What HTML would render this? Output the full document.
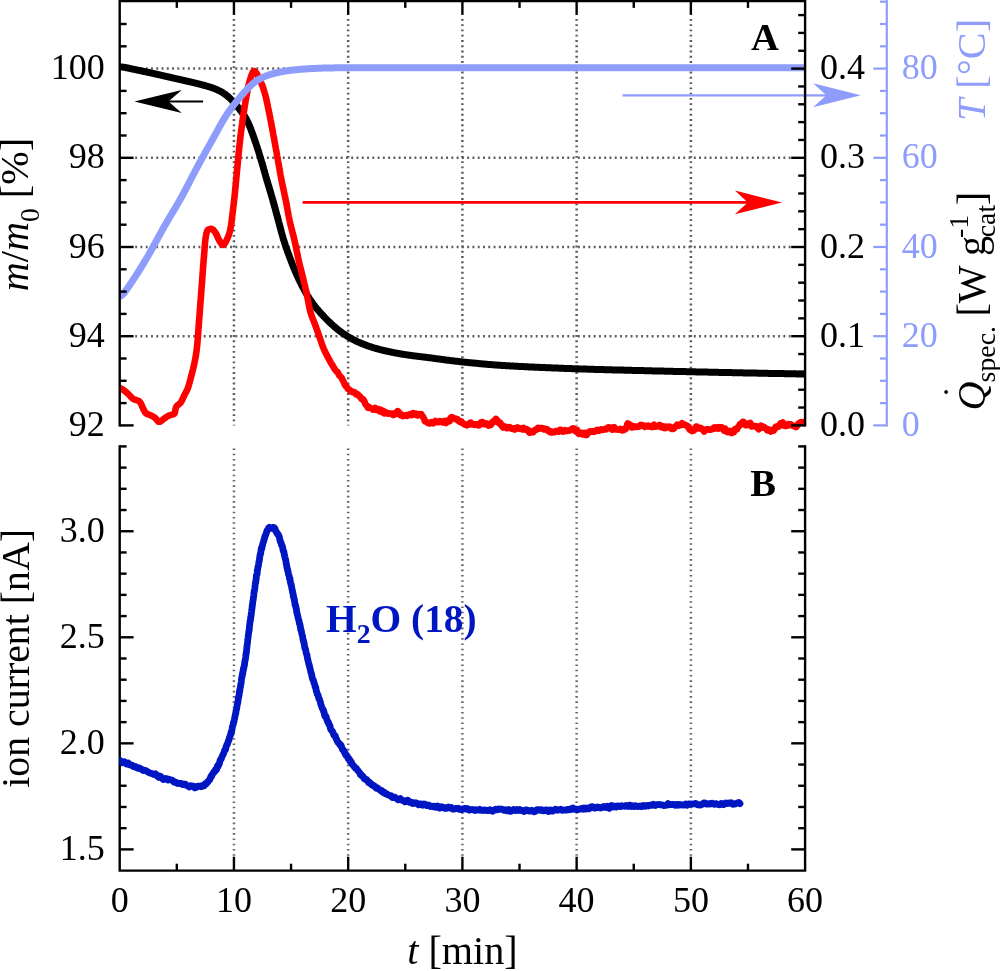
<!DOCTYPE html>
<html lang="en"><head><meta charset="utf-8"><title>TG / DSC / MS chart</title>
<style>html,body{margin:0;padding:0;background:#fff}svg{display:block}</style></head>
<body>
<svg width="1000" height="971" viewBox="0 0 1000 971" font-family="'Liberation Serif', 'Times New Roman', serif">
<rect width="1000" height="971" fill="#fff"/>
<g stroke="#5c5c5c" stroke-width="2.5" fill="none" stroke-dasharray="1.9 3.37">
<line x1="233.93" y1="18.9" x2="233.93" y2="425.4"/>
<line x1="233.93" y1="448.4" x2="233.93" y2="856.6" stroke="#666" stroke-width="2.5" stroke-dasharray="1.6 3.67"/>
<line x1="348.17" y1="18.9" x2="348.17" y2="425.4"/>
<line x1="348.17" y1="448.4" x2="348.17" y2="856.6" stroke="#666" stroke-width="2.5" stroke-dasharray="1.6 3.67"/>
<line x1="462.40" y1="18.9" x2="462.40" y2="425.4"/>
<line x1="462.40" y1="448.4" x2="462.40" y2="856.6" stroke="#666" stroke-width="2.5" stroke-dasharray="1.6 3.67"/>
<line x1="576.63" y1="18.9" x2="576.63" y2="425.4"/>
<line x1="576.63" y1="448.4" x2="576.63" y2="856.6" stroke="#666" stroke-width="2.5" stroke-dasharray="1.6 3.67"/>
<line x1="690.87" y1="18.9" x2="690.87" y2="425.4"/>
<line x1="690.87" y1="448.4" x2="690.87" y2="856.6" stroke="#666" stroke-width="2.5" stroke-dasharray="1.6 3.67"/>
<line x1="135.2" y1="336.20" x2="790.6" y2="336.20"/>
<line x1="135.2" y1="247.00" x2="790.6" y2="247.00"/>
<line x1="135.2" y1="157.80" x2="790.6" y2="157.80"/>
<line x1="135.2" y1="68.60" x2="790.6" y2="68.60"/>
</g>
<clipPath id="ca"><rect x="119.7" y="0" width="685.4" height="440"/></clipPath>
<g clip-path="url(#ca)">
<path d="M119.7,66.9 L120.5,66.9 L121.2,67.0 L121.9,67.0 L122.6,67.1 L123.3,67.2 L124.0,67.3 L124.7,67.4 L125.4,67.5 L126.0,67.7 L126.7,67.8 L127.4,67.9 L128.0,68.1 L128.7,68.2 L129.4,68.4 L130.1,68.5 L130.8,68.7 L131.4,68.8 L132.1,69.0 L132.8,69.1 L133.5,69.3 L134.2,69.4 L134.9,69.5 L135.5,69.7 L136.2,69.8 L136.9,70.0 L137.6,70.1 L138.3,70.3 L139.0,70.4 L139.7,70.5 L140.3,70.7 L141.0,70.8 L141.7,71.0 L142.4,71.1 L143.1,71.3 L143.8,71.4 L144.4,71.6 L145.1,71.7 L145.8,71.8 L146.5,72.0 L147.2,72.1 L147.9,72.3 L148.6,72.4 L149.2,72.6 L149.9,72.7 L150.6,72.9 L151.3,73.0 L152.0,73.2 L152.7,73.3 L153.3,73.5 L154.0,73.6 L154.7,73.8 L155.4,73.9 L156.1,74.1 L156.8,74.3 L157.4,74.4 L158.1,74.6 L158.8,74.7 L159.5,74.9 L160.2,75.0 L160.9,75.2 L161.5,75.3 L162.2,75.5 L162.9,75.6 L163.6,75.8 L164.3,76.0 L164.9,76.1 L165.6,76.3 L166.3,76.4 L167.0,76.6 L167.7,76.7 L168.4,76.9 L169.0,77.1 L169.7,77.2 L170.4,77.4 L171.1,77.5 L171.8,77.7 L172.5,77.8 L173.1,78.0 L173.8,78.1 L174.5,78.3 L175.2,78.5 L175.9,78.6 L176.5,78.8 L177.2,78.9 L177.9,79.1 L178.6,79.2 L179.3,79.4 L180.0,79.5 L180.6,79.7 L181.3,79.8 L182.0,80.0 L182.7,80.2 L183.4,80.3 L184.1,80.5 L184.7,80.6 L185.4,80.8 L186.1,80.9 L186.8,81.1 L187.5,81.3 L188.2,81.4 L188.8,81.6 L189.5,81.7 L190.2,81.9 L190.9,82.0 L191.6,82.2 L192.2,82.4 L192.9,82.5 L193.6,82.7 L194.3,82.9 L195.0,83.0 L195.6,83.2 L196.3,83.4 L197.0,83.5 L197.7,83.7 L198.4,83.9 L199.0,84.0 L199.7,84.2 L200.4,84.4 L201.1,84.5 L201.8,84.7 L202.4,84.9 L203.1,85.1 L203.8,85.3 L204.5,85.4 L205.1,85.6 L205.8,85.8 L206.5,86.0 L207.2,86.2 L207.8,86.4 L208.5,86.6 L209.2,86.8 L209.8,87.0 L210.5,87.2 L211.2,87.5 L211.8,87.7 L212.5,87.9 L213.1,88.1 L213.8,88.4 L214.5,88.6 L215.1,88.9 L215.8,89.2 L216.4,89.4 L217.0,89.7 L217.7,90.0 L218.3,90.3 L218.9,90.6 L219.6,90.9 L220.2,91.2 L220.8,91.6 L221.4,91.9 L222.0,92.2 L222.6,92.6 L223.2,93.0 L223.8,93.4 L224.3,93.7 L224.9,94.1 L225.5,94.5 L226.0,95.0 L226.6,95.4 L227.1,95.8 L227.7,96.3 L228.2,96.7 L228.7,97.2 L229.2,97.6 L229.7,98.1 L230.2,98.6 L230.7,99.1 L231.2,99.6 L231.7,100.1 L232.2,100.6 L232.7,101.1 L233.2,101.6 L233.6,102.1 L234.1,102.7 L234.6,103.2 L235.0,103.7 L235.5,104.2 L235.9,104.8 L236.4,105.3 L236.8,105.9 L237.3,106.4 L237.7,106.9 L238.2,107.5 L238.6,108.0 L239.0,108.6 L239.5,109.1 L239.9,109.7 L240.3,110.3 L240.8,110.8 L241.2,111.4 L241.6,111.9 L242.0,112.5 L242.4,113.1 L242.8,113.6 L243.2,114.2 L243.6,114.8 L244.0,115.4 L244.4,116.0 L244.8,116.5 L245.1,117.1 L245.5,117.7 L245.8,118.3 L246.2,118.9 L246.5,119.5 L246.8,120.2 L247.1,120.8 L247.5,121.4 L247.8,122.0 L248.1,122.6 L248.3,123.3 L248.6,123.9 L248.9,124.5 L249.2,125.2 L249.5,125.8 L249.7,126.5 L250.0,127.1 L250.2,127.8 L250.5,128.4 L250.8,129.1 L251.0,129.7 L251.3,130.4 L251.5,131.1 L251.7,131.7 L252.0,132.4 L252.2,133.0 L252.5,133.7 L252.7,134.4 L252.9,135.0 L253.2,135.7 L253.4,136.3 L253.7,137.0 L253.9,137.7 L254.1,138.3 L254.4,139.0 L254.6,139.6 L254.8,140.3 L255.0,141.0 L255.3,141.6 L255.5,142.3 L255.7,143.0 L256.0,143.6 L256.2,144.3 L256.4,144.9 L256.6,145.6 L256.8,146.3 L257.1,146.9 L257.3,147.6 L257.5,148.3 L257.7,148.9 L257.9,149.6 L258.2,150.3 L258.4,150.9 L258.6,151.6 L258.8,152.3 L259.0,152.9 L259.2,153.6 L259.4,154.3 L259.6,154.9 L259.8,155.6 L260.0,156.3 L260.2,156.9 L260.4,157.6 L260.6,158.3 L260.8,159.0 L261.0,159.6 L261.2,160.3 L261.4,161.0 L261.6,161.6 L261.8,162.3 L262.0,163.0 L262.2,163.7 L262.4,164.3 L262.6,165.0 L262.8,165.7 L263.0,166.4 L263.2,167.0 L263.4,167.7 L263.5,168.4 L263.7,169.1 L263.9,169.7 L264.1,170.4 L264.3,171.1 L264.5,171.7 L264.7,172.4 L264.9,173.1 L265.1,173.8 L265.3,174.4 L265.4,175.1 L265.6,175.8 L265.8,176.5 L266.0,177.1 L266.2,177.8 L266.4,178.5 L266.6,179.2 L266.8,179.8 L267.0,180.5 L267.2,181.2 L267.4,181.8 L267.6,182.5 L267.8,183.2 L268.0,183.9 L268.2,184.5 L268.4,185.2 L268.6,185.9 L268.8,186.5 L269.0,187.2 L269.2,187.9 L269.4,188.5 L269.6,189.2 L269.8,189.9 L270.0,190.6 L270.2,191.2 L270.4,191.9 L270.6,192.6 L270.8,193.2 L271.0,193.9 L271.2,194.6 L271.4,195.3 L271.6,195.9 L271.8,196.6 L272.0,197.3 L272.2,197.9 L272.4,198.6 L272.6,199.3 L272.8,200.0 L273.0,200.6 L273.1,201.3 L273.3,202.0 L273.5,202.7 L273.7,203.3 L273.9,204.0 L274.1,204.7 L274.3,205.4 L274.5,206.0 L274.6,206.7 L274.8,207.4 L275.0,208.1 L275.2,208.7 L275.4,209.4 L275.6,210.1 L275.7,210.8 L275.9,211.4 L276.1,212.1 L276.3,212.8 L276.5,213.5 L276.6,214.1 L276.8,214.8 L277.0,215.5 L277.2,216.2 L277.4,216.8 L277.6,217.5 L277.7,218.2 L277.9,218.9 L278.1,219.5 L278.3,220.2 L278.5,220.9 L278.6,221.6 L278.8,222.3 L279.0,222.9 L279.2,223.6 L279.4,224.3 L279.5,225.0 L279.7,225.6 L279.9,226.3 L280.1,227.0 L280.3,227.7 L280.4,228.3 L280.6,229.0 L280.8,229.7 L281.0,230.4 L281.2,231.1 L281.3,231.7 L281.5,232.4 L281.7,233.1 L281.9,233.8 L282.1,234.4 L282.3,235.1 L282.5,235.8 L282.7,236.4 L282.9,237.1 L283.0,237.8 L283.2,238.5 L283.4,239.1 L283.6,239.8 L283.8,240.5 L284.1,241.1 L284.3,241.8 L284.5,242.5 L284.7,243.1 L284.9,243.8 L285.1,244.5 L285.3,245.1 L285.6,245.8 L285.8,246.5 L286.0,247.1 L286.2,247.8 L286.5,248.5 L286.7,249.1 L286.9,249.8 L287.2,250.4 L287.4,251.1 L287.6,251.8 L287.9,252.4 L288.1,253.1 L288.3,253.7 L288.6,254.4 L288.8,255.0 L289.1,255.7 L289.3,256.4 L289.6,257.0 L289.8,257.7 L290.1,258.3 L290.3,259.0 L290.6,259.6 L290.8,260.3 L291.1,260.9 L291.3,261.6 L291.6,262.2 L291.8,262.9 L292.1,263.5 L292.3,264.2 L292.6,264.8 L292.8,265.5 L293.1,266.1 L293.4,266.8 L293.6,267.4 L293.9,268.1 L294.2,268.7 L294.4,269.4 L294.7,270.0 L295.0,270.7 L295.3,271.3 L295.5,272.0 L295.8,272.6 L296.1,273.2 L296.4,273.9 L296.7,274.5 L296.9,275.2 L297.2,275.8 L297.5,276.4 L297.8,277.1 L298.1,277.7 L298.4,278.3 L298.7,279.0 L299.0,279.6 L299.3,280.2 L299.6,280.9 L299.9,281.5 L300.2,282.1 L300.5,282.8 L300.9,283.4 L301.2,284.0 L301.5,284.6 L301.8,285.3 L302.1,285.9 L302.5,286.5 L302.8,287.1 L303.1,287.7 L303.4,288.3 L303.8,289.0 L304.1,289.6 L304.4,290.2 L304.8,290.8 L305.1,291.4 L305.5,292.0 L305.8,292.6 L306.2,293.2 L306.5,293.8 L306.9,294.5 L307.2,295.1 L307.6,295.7 L308.0,296.3 L308.3,296.9 L308.7,297.4 L309.1,298.0 L309.4,298.6 L309.8,299.2 L310.2,299.8 L310.6,300.4 L311.0,301.0 L311.4,301.5 L311.8,302.1 L312.2,302.7 L312.6,303.2 L313.0,303.8 L313.4,304.4 L313.8,304.9 L314.3,305.5 L314.7,306.0 L315.1,306.6 L315.6,307.1 L316.0,307.7 L316.4,308.2 L316.9,308.7 L317.3,309.3 L317.8,309.8 L318.3,310.3 L318.7,310.9 L319.2,311.4 L319.7,311.9 L320.1,312.4 L320.6,313.0 L321.1,313.5 L321.5,314.0 L322.0,314.5 L322.5,315.0 L323.0,315.5 L323.4,316.0 L323.9,316.5 L324.4,317.1 L324.9,317.6 L325.4,318.1 L325.9,318.6 L326.4,319.1 L326.9,319.6 L327.3,320.1 L327.8,320.6 L328.3,321.1 L328.8,321.5 L329.3,322.0 L329.8,322.5 L330.4,323.0 L330.9,323.5 L331.4,324.0 L331.9,324.4 L332.4,324.9 L332.9,325.4 L333.5,325.8 L334.0,326.3 L334.5,326.7 L335.0,327.2 L335.6,327.7 L336.1,328.1 L336.6,328.6 L337.2,329.0 L337.7,329.4 L338.3,329.9 L338.8,330.3 L339.4,330.7 L339.9,331.2 L340.5,331.6 L341.1,332.0 L341.6,332.4 L342.2,332.8 L342.8,333.2 L343.3,333.6 L343.9,334.0 L344.5,334.4 L345.1,334.8 L345.7,335.2 L346.3,335.5 L346.9,335.9 L347.4,336.3 L348.0,336.6 L348.6,337.0 L349.2,337.4 L349.9,337.7 L350.5,338.1 L351.1,338.4 L351.7,338.7 L352.3,339.1 L352.9,339.4 L353.5,339.7 L354.2,340.0 L354.8,340.4 L355.4,340.7 L356.0,341.0 L356.7,341.3 L357.3,341.6 L357.9,341.9 L358.6,342.2 L359.2,342.4 L359.9,342.7 L360.5,343.0 L361.1,343.3 L361.8,343.6 L362.4,343.8 L363.1,344.1 L363.7,344.3 L364.4,344.6 L365.0,344.8 L365.7,345.1 L366.3,345.3 L367.0,345.6 L367.7,345.8 L368.3,346.0 L369.0,346.3 L369.6,346.5 L370.3,346.7 L371.0,346.9 L371.6,347.2 L372.3,347.4 L373.0,347.6 L373.6,347.8 L374.3,348.0 L375.0,348.2 L375.7,348.4 L376.3,348.6 L377.0,348.7 L377.7,348.9 L378.4,349.1 L379.0,349.3 L379.7,349.5 L380.4,349.6 L381.1,349.8 L381.8,350.0 L382.4,350.1 L383.1,350.3 L383.8,350.5 L384.5,350.6 L385.2,350.8 L385.8,350.9 L386.5,351.1 L387.2,351.3 L387.9,351.4 L388.6,351.5 L389.3,351.7 L389.9,351.8 L390.6,352.0 L391.3,352.1 L392.0,352.3 L392.7,352.4 L393.4,352.5 L394.1,352.7 L394.7,352.8 L395.4,352.9 L396.1,353.1 L396.8,353.2 L397.5,353.3 L398.2,353.4 L398.9,353.6 L399.6,353.7 L400.3,353.8 L400.9,353.9 L401.6,354.1 L402.3,354.2 L403.0,354.3 L403.7,354.4 L404.4,354.5 L405.1,354.6 L405.8,354.7 L406.5,354.8 L407.2,354.9 L407.9,355.0 L408.6,355.1 L409.2,355.2 L409.9,355.3 L410.6,355.4 L411.3,355.5 L412.0,355.6 L412.7,355.7 L413.4,355.8 L414.1,355.9 L414.8,356.0 L415.5,356.0 L416.2,356.1 L416.9,356.2 L417.6,356.3 L418.3,356.4 L419.0,356.5 L419.7,356.6 L420.4,356.6 L421.1,356.7 L421.7,356.8 L422.4,356.9 L423.1,357.0 L423.8,357.1 L424.5,357.1 L425.2,357.2 L425.9,357.3 L426.6,357.4 L427.3,357.5 L428.0,357.6 L428.7,357.7 L429.4,357.7 L430.1,357.8 L430.8,357.9 L431.5,358.0 L432.2,358.1 L432.9,358.2 L433.6,358.3 L434.2,358.4 L434.9,358.5 L435.6,358.6 L436.3,358.7 L437.0,358.8 L437.7,358.9 L438.4,359.0 L439.1,359.0 L439.8,359.1 L440.5,359.2 L441.2,359.3 L441.9,359.4 L442.6,359.5 L443.3,359.6 L444.0,359.7 L444.7,359.8 L445.3,359.9 L446.0,360.0 L446.7,360.1 L447.4,360.2 L448.1,360.2 L448.8,360.3 L449.5,360.4 L450.2,360.5 L450.9,360.6 L451.6,360.7 L452.3,360.8 L453.0,360.8 L453.7,360.9 L454.4,361.0 L455.1,361.1 L455.8,361.2 L456.5,361.2 L457.2,361.3 L457.9,361.4 L458.6,361.5 L459.2,361.6 L459.9,361.6 L460.6,361.7 L461.3,361.8 L462.0,361.9 L462.7,361.9 L463.4,362.0 L464.1,362.1 L464.8,362.2 L465.5,362.2 L466.2,362.3 L466.9,362.4 L467.6,362.5 L468.3,362.5 L469.0,362.6 L469.7,362.7 L470.4,362.7 L471.1,362.8 L471.8,362.9 L472.5,362.9 L473.2,363.0 L473.9,363.1 L474.6,363.1 L475.3,363.2 L476.0,363.3 L476.7,363.3 L477.4,363.4 L478.0,363.5 L478.7,363.5 L479.4,363.6 L480.1,363.7 L480.8,363.7 L481.5,363.8 L482.2,363.9 L482.9,363.9 L483.6,364.0 L484.3,364.1 L485.0,364.1 L485.7,364.2 L486.4,364.2 L487.1,364.3 L487.8,364.4 L488.5,364.4 L489.2,364.5 L489.9,364.5 L490.6,364.6 L491.3,364.6 L492.0,364.7 L492.7,364.8 L493.4,364.8 L494.1,364.9 L494.8,364.9 L495.5,365.0 L496.2,365.0 L496.9,365.1 L497.6,365.1 L498.3,365.2 L499.0,365.2 L499.7,365.3 L500.4,365.3 L501.1,365.4 L501.8,365.4 L502.5,365.4 L503.2,365.5 L503.9,365.5 L504.6,365.6 L505.3,365.6 L506.0,365.7 L506.7,365.7 L507.4,365.7 L508.1,365.8 L508.8,365.8 L509.5,365.9 L510.2,365.9 L510.9,365.9 L511.5,366.0 L512.2,366.0 L512.9,366.1 L513.6,366.1 L514.3,366.1 L515.0,366.2 L515.7,366.2 L516.4,366.2 L517.1,366.3 L517.8,366.3 L518.5,366.4 L519.2,366.4 L519.9,366.4 L520.6,366.5 L521.3,366.5 L522.0,366.5 L522.7,366.6 L523.4,366.6 L524.1,366.6 L524.8,366.7 L525.5,366.7 L526.2,366.8 L526.9,366.8 L527.6,366.8 L528.3,366.9 L529.0,366.9 L529.7,366.9 L530.4,367.0 L531.1,367.0 L531.8,367.0 L532.5,367.1 L533.2,367.1 L533.9,367.1 L534.6,367.2 L535.3,367.2 L536.0,367.2 L536.7,367.2 L537.4,367.3 L538.1,367.3 L538.8,367.3 L539.5,367.4 L540.2,367.4 L540.9,367.4 L541.6,367.5 L542.3,367.5 L543.0,367.5 L543.7,367.6 L544.4,367.6 L545.1,367.6 L545.8,367.6 L546.5,367.7 L547.2,367.7 L547.9,367.7 L548.6,367.8 L549.3,367.8 L550.0,367.8 L550.7,367.8 L551.4,367.9 L552.1,367.9 L552.8,367.9 L553.5,368.0 L554.2,368.0 L554.9,368.0 L555.6,368.0 L556.3,368.1 L557.0,368.1 L557.7,368.1 L558.4,368.1 L559.1,368.2 L559.8,368.2 L560.5,368.2 L561.2,368.3 L561.9,368.3 L562.6,368.3 L563.3,368.3 L564.0,368.4 L564.7,368.4 L565.4,368.4 L566.1,368.4 L566.8,368.5 L567.5,368.5 L568.2,368.5 L568.9,368.5 L569.6,368.6 L570.3,368.6 L571.0,368.6 L571.7,368.6 L572.4,368.7 L573.1,368.7 L573.8,368.7 L574.5,368.7 L575.2,368.8 L575.9,368.8 L576.6,368.8 L577.3,368.8 L578.0,368.8 L578.7,368.9 L579.4,368.9 L580.1,368.9 L580.8,368.9 L581.5,369.0 L582.2,369.0 L582.9,369.0 L583.6,369.0 L584.3,369.1 L585.0,369.1 L585.7,369.1 L586.4,369.1 L587.1,369.1 L587.8,369.2 L588.5,369.2 L589.2,369.2 L589.9,369.2 L590.6,369.2 L591.3,369.3 L592.0,369.3 L592.7,369.3 L593.4,369.3 L594.1,369.4 L594.8,369.4 L595.5,369.4 L596.2,369.4 L596.9,369.4 L597.6,369.5 L598.3,369.5 L599.0,369.5 L599.7,369.5 L600.4,369.5 L601.1,369.6 L601.8,369.6 L602.5,369.6 L603.2,369.6 L603.9,369.6 L604.6,369.7 L605.3,369.7 L606.0,369.7 L606.7,369.7 L607.4,369.7 L608.1,369.7 L608.8,369.8 L609.5,369.8 L610.2,369.8 L610.9,369.8 L611.6,369.8 L612.3,369.9 L613.0,369.9 L613.7,369.9 L614.4,369.9 L615.1,369.9 L615.8,370.0 L616.5,370.0 L617.2,370.0 L617.9,370.0 L618.6,370.0 L619.3,370.0 L620.0,370.1 L620.7,370.1 L621.4,370.1 L622.1,370.1 L622.8,370.1 L623.5,370.1 L624.2,370.2 L624.9,370.2 L625.6,370.2 L626.3,370.2 L627.0,370.2 L627.7,370.3 L628.4,370.3 L629.1,370.3 L629.8,370.3 L630.5,370.3 L631.2,370.3 L631.9,370.4 L632.6,370.4 L633.3,370.4 L634.0,370.4 L634.7,370.4 L635.4,370.4 L636.1,370.5 L636.8,370.5 L637.5,370.5 L638.2,370.5 L638.9,370.5 L639.6,370.5 L640.3,370.6 L641.0,370.6 L641.7,370.6 L642.4,370.6 L643.1,370.6 L643.8,370.6 L644.5,370.7 L645.2,370.7 L645.9,370.7 L646.6,370.7 L647.3,370.7 L648.0,370.8 L648.7,370.8 L649.4,370.8 L650.1,370.8 L650.8,370.8 L651.5,370.8 L652.2,370.9 L652.9,370.9 L653.6,370.9 L654.3,370.9 L655.0,370.9 L655.7,370.9 L656.4,371.0 L657.1,371.0 L657.8,371.0 L658.5,371.0 L659.2,371.0 L659.9,371.0 L660.6,371.1 L661.3,371.1 L662.0,371.1 L662.7,371.1 L663.4,371.1 L664.1,371.1 L664.8,371.2 L665.5,371.2 L666.2,371.2 L666.9,371.2 L667.6,371.2 L668.3,371.2 L669.0,371.3 L669.7,371.3 L670.4,371.3 L671.1,371.3 L671.8,371.3 L672.5,371.3 L673.2,371.4 L673.9,371.4 L674.6,371.4 L675.3,371.4 L676.0,371.4 L676.7,371.4 L677.4,371.4 L678.1,371.5 L678.8,371.5 L679.5,371.5 L680.2,371.5 L680.9,371.5 L681.6,371.5 L682.3,371.6 L683.0,371.6 L683.7,371.6 L684.4,371.6 L685.1,371.6 L685.8,371.6 L686.5,371.7 L687.2,371.7 L687.9,371.7 L688.6,371.7 L689.3,371.7 L690.0,371.7 L690.7,371.8 L691.4,371.8 L692.1,371.8 L692.8,371.8 L693.5,371.8 L694.2,371.8 L694.9,371.8 L695.6,371.9 L696.3,371.9 L697.0,371.9 L697.7,371.9 L698.4,371.9 L699.1,371.9 L699.8,372.0 L700.5,372.0 L701.2,372.0 L701.9,372.0 L702.6,372.0 L703.3,372.0 L704.0,372.0 L704.7,372.1 L705.4,372.1 L706.1,372.1 L706.8,372.1 L707.5,372.1 L708.2,372.1 L708.9,372.2 L709.6,372.2 L710.3,372.2 L711.0,372.2 L711.7,372.2 L712.4,372.2 L713.1,372.2 L713.7,372.3 L714.4,372.3 L715.1,372.3 L715.8,372.3 L716.5,372.3 L717.2,372.3 L717.9,372.3 L718.6,372.4 L719.3,372.4 L720.0,372.4 L720.7,372.4 L721.4,372.4 L722.1,372.4 L722.8,372.4 L723.5,372.5 L724.2,372.5 L724.9,372.5 L725.6,372.5 L726.3,372.5 L727.0,372.5 L727.7,372.6 L728.4,372.6 L729.1,372.6 L729.8,372.6 L730.5,372.6 L731.2,372.6 L731.9,372.6 L732.6,372.7 L733.3,372.7 L734.0,372.7 L734.7,372.7 L735.4,372.7 L736.1,372.7 L736.8,372.7 L737.5,372.8 L738.2,372.8 L738.9,372.8 L739.6,372.8 L740.3,372.8 L741.0,372.8 L741.7,372.8 L742.4,372.8 L743.1,372.9 L743.8,372.9 L744.5,372.9 L745.2,372.9 L745.9,372.9 L746.6,372.9 L747.3,372.9 L748.0,373.0 L748.7,373.0 L749.4,373.0 L750.1,373.0 L750.8,373.0 L751.5,373.0 L752.2,373.0 L752.9,373.1 L753.6,373.1 L754.3,373.1 L755.0,373.1 L755.7,373.1 L756.4,373.1 L757.1,373.1 L757.8,373.2 L758.5,373.2 L759.2,373.2 L759.9,373.2 L760.6,373.2 L761.3,373.2 L762.0,373.2 L762.7,373.2 L763.4,373.3 L764.1,373.3 L764.8,373.3 L765.5,373.3 L766.2,373.3 L766.9,373.3 L767.6,373.3 L768.3,373.4 L769.0,373.4 L769.7,373.4 L770.4,373.4 L771.1,373.4 L771.8,373.4 L772.5,373.4 L773.2,373.4 L773.9,373.5 L774.6,373.5 L775.3,373.5 L776.0,373.5 L776.7,373.5 L777.4,373.5 L778.1,373.5 L778.8,373.5 L779.5,373.6 L780.2,373.6 L780.9,373.6 L781.6,373.6 L782.3,373.6 L783.0,373.6 L783.7,373.6 L784.4,373.6 L785.1,373.7 L785.8,373.7 L786.5,373.7 L787.2,373.7 L787.9,373.7 L788.6,373.7 L789.3,373.7 L790.0,373.7 L790.7,373.8 L791.4,373.8 L792.1,373.8 L792.8,373.8 L793.5,373.8 L794.2,373.8 L794.9,373.8 L795.6,373.8 L796.3,373.9 L797.0,373.9 L797.7,373.9 L798.3,373.9 L799.0,373.9 L799.7,373.9 L800.4,373.9 L801.1,373.9 L801.8,373.9 L802.5,374.0 L803.2,374.0 L803.9,374.0 L804.7,374.0 L805.1,374.0" fill="none" stroke="#000" stroke-width="7.0" stroke-linejoin="round" stroke-linecap="butt" />
<path d="M119.7,388.0 L120.4,388.3 L121.0,388.6 L121.6,388.9 L122.2,389.2 L122.8,389.6 L123.4,390.0 L124.0,390.4 L124.5,390.8 L125.1,391.2 L125.6,391.7 L126.1,392.1 L126.7,392.6 L127.2,393.1 L127.7,393.5 L128.2,394.0 L128.8,394.5 L129.3,395.0 L129.7,395.5 L130.2,396.1 L130.7,396.6 L131.2,397.1 L131.7,397.6 L132.2,398.1 L132.7,398.5 L133.2,398.9 L133.8,399.3 L134.5,399.5 L135.2,399.8 L135.9,400.0 L136.6,400.2 L137.2,400.4 L137.9,400.6 L138.5,400.9 L139.0,401.2 L139.5,401.6 L139.9,402.0 L140.3,402.5 L140.6,403.1 L140.9,403.7 L141.3,404.3 L141.6,405.0 L141.9,405.7 L142.2,406.4 L142.5,407.1 L142.8,407.8 L143.1,408.5 L143.4,409.1 L143.7,409.8 L144.1,410.4 L144.4,411.1 L144.7,411.7 L145.1,412.3 L145.5,412.8 L146.0,413.2 L146.5,413.6 L147.0,413.9 L147.7,414.2 L148.3,414.4 L149.0,414.7 L149.7,414.9 L150.4,415.2 L151.0,415.5 L151.7,415.8 L152.3,416.1 L152.9,416.4 L153.5,416.8 L154.1,417.2 L154.7,417.6 L155.2,418.0 L155.8,418.5 L156.2,419.1 L156.7,419.7 L157.2,420.3 L157.6,420.8 L158.0,421.3 L158.5,421.7 L159.0,421.8 L159.5,421.8 L160.1,421.6 L160.6,421.3 L161.2,420.9 L161.8,420.5 L162.4,420.0 L163.0,419.5 L163.6,419.0 L164.2,418.6 L164.8,418.2 L165.4,417.8 L165.9,417.3 L166.5,416.9 L167.1,416.6 L167.7,416.2 L168.3,415.9 L169.0,415.6 L169.6,415.3 L170.3,415.1 L171.1,414.9 L171.8,414.7 L172.5,414.6 L173.2,414.4 L173.7,414.2 L174.1,413.9 L174.5,413.5 L174.7,413.0 L174.9,412.4 L175.1,411.7 L175.2,411.0 L175.3,410.2 L175.5,409.4 L175.6,408.7 L175.8,407.9 L176.1,407.3 L176.4,406.7 L176.7,406.1 L177.2,405.6 L177.7,405.2 L178.3,404.7 L178.8,404.3 L179.4,403.8 L179.9,403.4 L180.4,402.9 L180.8,402.3 L181.2,401.8 L181.5,401.2 L181.9,400.6 L182.2,399.9 L182.5,399.3 L182.8,398.7 L183.1,398.0 L183.4,397.3 L183.7,396.7 L184.0,396.1 L184.3,395.4 L184.6,394.8 L184.9,394.2 L185.2,393.5 L185.6,392.9 L185.9,392.3 L186.2,391.7 L186.6,391.1 L186.9,390.4 L187.2,389.8 L187.4,389.2 L187.7,388.5 L188.0,387.9 L188.2,387.2 L188.4,386.6 L188.6,385.9 L188.8,385.2 L189.0,384.6 L189.2,383.9 L189.4,383.2 L189.6,382.5 L189.8,381.9 L189.9,381.2 L190.1,380.5 L190.3,379.8 L190.5,379.1 L190.6,378.4 L190.8,377.8 L191.0,377.1 L191.2,376.4 L191.3,375.7 L191.5,375.1 L191.7,374.4 L191.9,373.7 L192.1,373.0 L192.2,372.4 L192.4,371.7 L192.6,371.0 L192.8,370.3 L192.9,369.6 L193.1,369.0 L193.3,368.3 L193.4,367.6 L193.6,366.9 L193.7,366.2 L193.9,365.5 L194.0,364.9 L194.2,364.2 L194.3,363.5 L194.5,362.8 L194.6,362.1 L194.7,361.4 L194.9,360.8 L195.0,360.1 L195.2,359.4 L195.3,358.7 L195.4,358.0 L195.5,357.3 L195.7,356.6 L195.8,355.9 L195.9,355.2 L196.0,354.5 L196.1,353.9 L196.2,353.2 L196.3,352.5 L196.4,351.8 L196.5,351.1 L196.6,350.4 L196.7,349.7 L196.8,349.0 L196.8,348.3 L196.9,347.6 L197.0,346.9 L197.1,346.2 L197.1,345.5 L197.2,344.8 L197.3,344.1 L197.3,343.4 L197.4,342.7 L197.5,342.1 L197.5,341.4 L197.6,340.7 L197.6,340.0 L197.7,339.3 L197.8,338.6 L197.8,337.9 L197.9,337.2 L197.9,336.5 L198.0,335.8 L198.0,335.1 L198.1,334.4 L198.1,333.7 L198.2,333.0 L198.2,332.3 L198.3,331.6 L198.3,330.9 L198.4,330.2 L198.4,329.5 L198.5,328.8 L198.5,328.1 L198.6,327.4 L198.6,326.7 L198.7,326.0 L198.7,325.3 L198.8,324.6 L198.8,323.9 L198.9,323.2 L198.9,322.5 L199.0,321.8 L199.1,321.1 L199.1,320.4 L199.2,319.7 L199.2,319.0 L199.3,318.3 L199.3,317.6 L199.4,316.9 L199.4,316.2 L199.5,315.5 L199.5,314.8 L199.6,314.1 L199.7,313.4 L199.7,312.7 L199.8,312.0 L199.8,311.3 L199.9,310.6 L199.9,309.9 L200.0,309.2 L200.0,308.5 L200.1,307.8 L200.1,307.1 L200.2,306.4 L200.2,305.7 L200.3,305.0 L200.3,304.3 L200.4,303.6 L200.4,302.9 L200.5,302.3 L200.5,301.6 L200.6,300.9 L200.6,300.2 L200.7,299.5 L200.8,298.8 L200.8,298.1 L200.9,297.4 L200.9,296.7 L201.0,296.0 L201.0,295.3 L201.1,294.6 L201.1,293.9 L201.2,293.2 L201.2,292.5 L201.3,291.8 L201.3,291.1 L201.4,290.4 L201.4,289.7 L201.5,289.0 L201.5,288.3 L201.6,287.6 L201.6,286.9 L201.7,286.2 L201.7,285.5 L201.8,284.8 L201.9,284.1 L201.9,283.4 L202.0,282.7 L202.0,282.0 L202.1,281.3 L202.1,280.6 L202.2,279.9 L202.2,279.2 L202.3,278.5 L202.3,277.8 L202.4,277.1 L202.4,276.4 L202.5,275.7 L202.5,275.0 L202.6,274.3 L202.6,273.6 L202.7,272.9 L202.7,272.2 L202.8,271.5 L202.8,270.8 L202.9,270.1 L202.9,269.4 L203.0,268.7 L203.0,268.0 L203.1,267.3 L203.1,266.6 L203.2,266.0 L203.2,265.3 L203.3,264.6 L203.4,263.9 L203.4,263.2 L203.5,262.5 L203.5,261.8 L203.6,261.1 L203.6,260.4 L203.7,259.7 L203.7,259.0 L203.8,258.3 L203.9,257.6 L203.9,256.9 L204.0,256.2 L204.0,255.5 L204.1,254.8 L204.1,254.1 L204.2,253.4 L204.3,252.7 L204.3,252.0 L204.4,251.3 L204.4,250.6 L204.5,249.9 L204.5,249.2 L204.6,248.5 L204.6,247.8 L204.7,247.1 L204.7,246.4 L204.8,245.7 L204.8,245.0 L204.9,244.3 L205.0,243.6 L205.0,242.9 L205.1,242.2 L205.2,241.5 L205.3,240.8 L205.3,240.1 L205.4,239.4 L205.5,238.7 L205.6,238.0 L205.7,237.3 L205.8,236.6 L205.9,235.9 L206.1,235.2 L206.2,234.4 L206.4,233.7 L206.6,232.9 L206.8,232.2 L207.0,231.5 L207.3,230.9 L207.6,230.3 L207.9,229.9 L208.4,229.5 L208.9,229.3 L209.6,229.1 L210.2,228.9 L210.9,228.9 L211.5,228.9 L212.1,229.1 L212.7,229.4 L213.2,229.9 L213.7,230.4 L214.2,231.0 L214.7,231.6 L215.1,232.2 L215.5,232.8 L215.9,233.4 L216.2,234.0 L216.5,234.7 L216.9,235.3 L217.1,235.9 L217.4,236.6 L217.7,237.2 L218.0,237.9 L218.3,238.5 L218.6,239.2 L218.9,239.8 L219.2,240.4 L219.6,241.1 L220.0,241.7 L220.4,242.4 L220.8,243.0 L221.3,243.7 L221.7,244.2 L222.2,244.6 L222.6,244.8 L223.1,244.9 L223.5,244.8 L223.9,244.4 L224.4,244.0 L224.8,243.4 L225.2,242.8 L225.6,242.1 L226.0,241.4 L226.4,240.7 L226.7,240.0 L227.0,239.3 L227.3,238.6 L227.6,238.0 L227.9,237.4 L228.1,236.7 L228.4,236.1 L228.6,235.4 L228.9,234.7 L229.1,234.1 L229.3,233.4 L229.5,232.7 L229.7,232.0 L229.9,231.3 L230.0,230.7 L230.2,230.0 L230.3,229.3 L230.5,228.6 L230.6,227.9 L230.7,227.2 L230.8,226.6 L231.0,225.9 L231.1,225.2 L231.2,224.5 L231.3,223.8 L231.4,223.1 L231.5,222.4 L231.6,221.7 L231.6,221.0 L231.7,220.3 L231.8,219.6 L231.9,218.9 L232.0,218.2 L232.1,217.5 L232.2,216.8 L232.2,216.1 L232.3,215.4 L232.4,214.7 L232.5,214.0 L232.6,213.3 L232.6,212.6 L232.7,212.0 L232.8,211.3 L232.9,210.6 L233.0,209.9 L233.1,209.2 L233.2,208.5 L233.2,207.8 L233.3,207.1 L233.4,206.4 L233.5,205.7 L233.6,205.0 L233.7,204.3 L233.7,203.6 L233.8,202.9 L233.9,202.2 L234.0,201.5 L234.1,200.8 L234.1,200.1 L234.2,199.4 L234.3,198.7 L234.4,198.0 L234.5,197.4 L234.5,196.7 L234.6,196.0 L234.7,195.3 L234.7,194.6 L234.8,193.9 L234.9,193.2 L235.0,192.5 L235.0,191.8 L235.1,191.1 L235.2,190.4 L235.2,189.7 L235.3,189.0 L235.4,188.3 L235.4,187.6 L235.5,186.9 L235.6,186.2 L235.6,185.5 L235.7,184.8 L235.8,184.1 L235.8,183.4 L235.9,182.7 L235.9,182.0 L236.0,181.3 L236.1,180.6 L236.1,179.9 L236.2,179.2 L236.3,178.5 L236.3,177.8 L236.4,177.1 L236.5,176.4 L236.5,175.8 L236.6,175.1 L236.7,174.4 L236.7,173.7 L236.8,173.0 L236.9,172.3 L236.9,171.6 L237.0,170.9 L237.1,170.2 L237.1,169.5 L237.2,168.8 L237.3,168.1 L237.3,167.4 L237.4,166.7 L237.5,166.0 L237.5,165.3 L237.6,164.6 L237.7,163.9 L237.7,163.2 L237.8,162.5 L237.9,161.8 L237.9,161.1 L238.0,160.4 L238.1,159.7 L238.1,159.0 L238.2,158.3 L238.3,157.6 L238.3,156.9 L238.4,156.2 L238.5,155.5 L238.5,154.8 L238.6,154.1 L238.7,153.5 L238.7,152.8 L238.8,152.1 L238.9,151.4 L238.9,150.7 L239.0,150.0 L239.1,149.3 L239.1,148.6 L239.2,147.9 L239.3,147.2 L239.4,146.5 L239.4,145.8 L239.5,145.1 L239.6,144.4 L239.7,143.7 L239.7,143.0 L239.8,142.3 L239.9,141.6 L240.0,140.9 L240.0,140.2 L240.1,139.5 L240.2,138.8 L240.3,138.1 L240.4,137.4 L240.4,136.7 L240.5,136.1 L240.6,135.4 L240.7,134.7 L240.8,134.0 L240.9,133.3 L240.9,132.6 L241.0,131.9 L241.1,131.2 L241.2,130.5 L241.3,129.8 L241.4,129.1 L241.5,128.4 L241.6,127.7 L241.7,127.0 L241.8,126.3 L241.9,125.6 L241.9,124.9 L242.0,124.3 L242.1,123.6 L242.2,122.9 L242.3,122.2 L242.4,121.5 L242.5,120.8 L242.6,120.1 L242.7,119.4 L242.8,118.7 L242.9,118.0 L243.0,117.3 L243.1,116.6 L243.2,115.9 L243.3,115.2 L243.4,114.5 L243.5,113.9 L243.6,113.2 L243.7,112.5 L243.9,111.8 L244.0,111.1 L244.1,110.4 L244.2,109.7 L244.3,109.0 L244.4,108.3 L244.5,107.6 L244.6,106.9 L244.7,106.2 L244.8,105.6 L244.9,104.9 L245.1,104.2 L245.2,103.5 L245.3,102.8 L245.4,102.1 L245.5,101.4 L245.6,100.7 L245.8,100.0 L245.9,99.3 L246.0,98.7 L246.1,98.0 L246.3,97.3 L246.4,96.6 L246.5,95.9 L246.6,95.2 L246.8,94.5 L246.9,93.8 L247.0,93.1 L247.2,92.5 L247.3,91.8 L247.4,91.1 L247.6,90.4 L247.7,89.7 L247.8,89.0 L248.0,88.3 L248.1,87.6 L248.2,86.9 L248.4,86.2 L248.5,85.6 L248.7,84.9 L248.8,84.2 L249.0,83.5 L249.2,82.8 L249.4,82.2 L249.5,81.5 L249.7,80.8 L249.9,80.1 L250.1,79.4 L250.3,78.7 L250.6,78.0 L250.8,77.2 L251.1,76.4 L251.4,75.5 L251.7,74.7 L252.0,74.0 L252.3,73.2 L252.6,72.6 L252.9,72.0 L253.2,71.6 L253.6,71.3 L253.9,71.1 L254.2,71.0 L254.6,71.1 L254.9,71.4 L255.3,71.7 L255.7,72.2 L256.1,72.7 L256.5,73.3 L256.9,74.0 L257.3,74.7 L257.7,75.5 L258.1,76.2 L258.5,77.0 L258.9,77.7 L259.2,78.5 L259.5,79.2 L259.9,79.8 L260.2,80.5 L260.4,81.1 L260.7,81.7 L261.0,82.4 L261.3,83.0 L261.6,83.7 L261.8,84.3 L262.1,85.0 L262.3,85.6 L262.6,86.3 L262.8,87.0 L263.1,87.6 L263.3,88.3 L263.5,89.0 L263.7,89.6 L263.9,90.3 L264.1,91.0 L264.4,91.6 L264.5,92.3 L264.7,93.0 L264.9,93.6 L265.1,94.3 L265.3,95.0 L265.5,95.7 L265.6,96.3 L265.8,97.0 L266.0,97.7 L266.1,98.4 L266.3,99.1 L266.4,99.7 L266.6,100.4 L266.8,101.1 L266.9,101.8 L267.0,102.5 L267.2,103.2 L267.3,103.9 L267.5,104.5 L267.6,105.2 L267.8,105.9 L267.9,106.6 L268.0,107.3 L268.2,108.0 L268.3,108.7 L268.5,109.4 L268.6,110.0 L268.7,110.7 L268.9,111.4 L269.0,112.1 L269.2,112.8 L269.3,113.5 L269.4,114.2 L269.6,114.8 L269.7,115.5 L269.9,116.2 L270.0,116.9 L270.1,117.6 L270.3,118.3 L270.4,119.0 L270.5,119.7 L270.6,120.3 L270.8,121.0 L270.9,121.7 L271.0,122.4 L271.2,123.1 L271.3,123.8 L271.4,124.5 L271.6,125.2 L271.7,125.8 L271.8,126.5 L271.9,127.2 L272.1,127.9 L272.2,128.6 L272.3,129.3 L272.4,130.0 L272.6,130.7 L272.7,131.4 L272.8,132.0 L273.0,132.7 L273.1,133.4 L273.2,134.1 L273.3,134.8 L273.5,135.5 L273.6,136.2 L273.7,136.9 L273.9,137.5 L274.0,138.2 L274.1,138.9 L274.2,139.6 L274.4,140.3 L274.5,141.0 L274.6,141.7 L274.7,142.4 L274.9,143.1 L275.0,143.7 L275.1,144.4 L275.2,145.1 L275.4,145.8 L275.5,146.5 L275.6,147.2 L275.7,147.9 L275.9,148.6 L276.0,149.3 L276.1,149.9 L276.2,150.6 L276.4,151.3 L276.5,152.0 L276.6,152.7 L276.7,153.4 L276.9,154.1 L277.0,154.8 L277.1,155.5 L277.2,156.1 L277.4,156.8 L277.5,157.5 L277.6,158.2 L277.7,158.9 L277.8,159.6 L278.0,160.3 L278.1,161.0 L278.2,161.7 L278.3,162.3 L278.4,163.0 L278.6,163.7 L278.7,164.4 L278.8,165.1 L278.9,165.8 L279.0,166.5 L279.2,167.2 L279.3,167.9 L279.4,168.6 L279.5,169.2 L279.6,169.9 L279.8,170.6 L279.9,171.3 L280.0,172.0 L280.1,172.7 L280.2,173.4 L280.4,174.1 L280.5,174.8 L280.6,175.4 L280.8,176.1 L280.9,176.8 L281.0,177.5 L281.1,178.2 L281.3,178.9 L281.4,179.6 L281.5,180.3 L281.7,180.9 L281.8,181.6 L282.0,182.3 L282.1,183.0 L282.2,183.7 L282.4,184.4 L282.5,185.1 L282.7,185.7 L282.8,186.4 L283.0,187.1 L283.1,187.8 L283.3,188.5 L283.4,189.2 L283.6,189.8 L283.7,190.5 L283.9,191.2 L284.0,191.9 L284.1,192.6 L284.3,193.3 L284.4,194.0 L284.6,194.6 L284.7,195.3 L284.9,196.0 L285.0,196.7 L285.2,197.4 L285.3,198.1 L285.4,198.8 L285.6,199.4 L285.7,200.1 L285.9,200.8 L286.0,201.5 L286.1,202.2 L286.3,202.9 L286.4,203.6 L286.5,204.2 L286.6,204.9 L286.8,205.6 L286.9,206.3 L287.0,207.0 L287.2,207.7 L287.3,208.4 L287.4,209.1 L287.5,209.8 L287.7,210.4 L287.8,211.1 L287.9,211.8 L288.0,212.5 L288.2,213.2 L288.3,213.9 L288.4,214.6 L288.6,215.3 L288.7,216.0 L288.8,216.6 L289.0,217.3 L289.1,218.0 L289.2,218.7 L289.4,219.4 L289.5,220.1 L289.7,220.8 L289.8,221.4 L290.0,222.1 L290.1,222.8 L290.3,223.5 L290.4,224.2 L290.6,224.8 L290.8,225.5 L290.9,226.2 L291.1,226.9 L291.3,227.6 L291.4,228.2 L291.6,228.9 L291.8,229.6 L292.0,230.3 L292.1,231.0 L292.3,231.6 L292.5,232.3 L292.7,233.0 L292.8,233.7 L293.0,234.3 L293.2,235.0 L293.4,235.7 L293.5,236.4 L293.7,237.1 L293.9,237.7 L294.0,238.4 L294.2,239.1 L294.4,239.8 L294.5,240.5 L294.7,241.1 L294.8,241.8 L295.0,242.5 L295.1,243.2 L295.3,243.9 L295.4,244.6 L295.6,245.2 L295.7,245.9 L295.9,246.6 L296.0,247.3 L296.1,248.0 L296.3,248.7 L296.4,249.4 L296.5,250.1 L296.7,250.7 L296.8,251.4 L296.9,252.1 L297.1,252.8 L297.2,253.5 L297.4,254.2 L297.5,254.9 L297.6,255.5 L297.8,256.2 L297.9,256.9 L298.1,257.6 L298.2,258.3 L298.4,259.0 L298.5,259.7 L298.7,260.3 L298.8,261.0 L299.0,261.7 L299.1,262.4 L299.3,263.1 L299.4,263.7 L299.6,264.4 L299.8,265.1 L300.0,265.8 L300.1,266.5 L300.3,267.1 L300.5,267.8 L300.6,268.5 L300.8,269.2 L301.0,269.9 L301.2,270.5 L301.3,271.2 L301.5,271.9 L301.7,272.6 L301.9,273.2 L302.0,273.9 L302.2,274.6 L302.4,275.3 L302.5,276.0 L302.7,276.6 L302.9,277.3 L303.0,278.0 L303.2,278.7 L303.4,279.4 L303.5,280.0 L303.7,280.7 L303.9,281.4 L304.0,282.1 L304.2,282.8 L304.3,283.4 L304.5,284.1 L304.7,284.8 L304.8,285.5 L305.0,286.2 L305.1,286.9 L305.3,287.5 L305.5,288.2 L305.6,288.9 L305.8,289.6 L305.9,290.3 L306.1,290.9 L306.2,291.6 L306.4,292.3 L306.5,293.0 L306.7,293.7 L306.8,294.4 L307.0,295.1 L307.1,295.7 L307.3,296.4 L307.4,297.1 L307.5,297.8 L307.7,298.5 L307.8,299.2 L307.9,299.9 L308.1,300.6 L308.2,301.2 L308.3,301.9 L308.4,302.6 L308.6,303.3 L308.7,304.0 L308.8,304.7 L308.9,305.4 L309.1,306.1 L309.2,306.8 L309.4,307.5 L309.5,308.1 L309.6,308.8 L309.8,309.5 L310.0,310.2 L310.1,310.9 L310.3,311.5 L310.5,312.2 L310.7,312.9 L310.9,313.5 L311.1,314.2 L311.3,314.9 L311.5,315.5 L311.8,316.2 L312.0,316.8 L312.2,317.5 L312.5,318.1 L312.8,318.8 L313.0,319.4 L313.3,320.1 L313.6,320.7 L313.8,321.4 L314.1,322.0 L314.3,322.7 L314.6,323.4 L314.8,324.0 L315.1,324.7 L315.3,325.3 L315.6,326.0 L315.8,326.6 L316.1,327.3 L316.3,328.0 L316.5,328.6 L316.8,329.3 L317.0,329.9 L317.2,330.6 L317.5,331.3 L317.7,331.9 L317.9,332.6 L318.2,333.2 L318.4,333.9 L318.6,334.6 L318.9,335.2 L319.1,335.9 L319.3,336.5 L319.6,337.2 L319.8,337.9 L320.0,338.5 L320.3,339.2 L320.5,339.8 L320.7,340.5 L320.9,341.2 L321.1,341.8 L321.4,342.5 L321.6,343.2 L321.8,343.8 L322.1,344.5 L322.3,345.2 L322.5,345.8 L322.8,346.5 L323.0,347.1 L323.3,347.8 L323.6,348.4 L323.8,349.0 L324.1,349.7 L324.4,350.3 L324.7,350.9 L325.0,351.6 L325.3,352.2 L325.6,352.8 L325.9,353.5 L326.3,354.1 L326.6,354.7 L326.9,355.3 L327.2,355.9 L327.6,356.6 L327.9,357.2 L328.2,357.8 L328.6,358.4 L328.9,359.0 L329.2,359.7 L329.6,360.3 L329.9,360.9 L330.2,361.5 L330.6,362.1 L330.9,362.8 L331.2,363.3 L331.6,363.9 L331.9,364.5 L332.3,365.1 L332.7,365.6 L333.0,366.3 L333.4,367.0 L333.8,367.6 L334.2,368.1 L334.6,368.8 L335.0,369.5 L335.4,370.0 L335.8,370.5 L336.2,371.1 L336.6,371.5 L337.1,371.7 L337.5,372.1 L337.9,372.7 L338.3,373.6 L338.8,374.6 L339.2,375.3 L339.7,375.8 L340.1,376.3 L340.5,376.5 L341.0,377.1 L341.4,377.7 L341.8,378.2 L342.2,379.1 L342.5,379.9 L342.9,380.3 L343.2,381.0 L343.5,381.6 L343.8,382.1 L344.1,382.8 L344.4,383.6 L344.7,384.4 L345.0,385.0 L345.4,385.6 L345.7,386.3 L346.1,386.3 L346.5,386.3 L346.9,387.0 L347.4,388.1 L347.8,388.8 L348.3,388.9 L348.8,389.5 L349.3,389.8 L349.8,389.9 L350.4,390.8 L351.0,391.4 L351.6,391.8 L352.2,392.1 L352.9,391.8 L353.5,391.9 L354.2,392.2 L354.8,392.5 L355.4,393.2 L356.0,394.3 L356.6,394.6 L357.2,393.9 L357.7,394.6 L358.3,395.5 L358.8,395.3 L359.4,396.1 L359.9,397.0 L360.4,396.8 L360.8,397.6 L361.3,398.9 L361.7,398.8 L362.1,399.0 L362.6,399.8 L363.0,399.3 L363.4,399.5 L363.8,400.7 L364.2,401.0 L364.7,402.1 L365.1,403.7 L365.6,404.3 L366.1,405.0 L366.5,405.5 L367.0,405.6 L367.5,406.9 L368.0,407.7 L368.5,407.1 L369.0,407.1 L369.6,408.0 L370.1,408.1 L370.8,408.0 L371.4,408.4 L372.1,408.8 L372.9,409.8 L373.6,409.8 L374.3,408.5 L375.0,407.9 L375.7,409.0 L376.3,409.9 L377.0,409.5 L377.7,409.0 L378.3,409.1 L379.0,410.2 L379.6,411.2 L380.3,410.4 L380.9,409.9 L381.5,411.3 L382.2,412.2 L382.8,411.5 L383.4,411.1 L384.0,412.2 L384.6,413.3 L385.3,412.8 L386.0,412.4 L386.6,413.2 L387.3,413.5 L388.0,413.7 L388.7,413.7 L389.4,413.3 L390.1,413.4 L390.7,413.6 L391.4,413.5 L392.1,413.7 L392.8,414.8 L393.5,415.0 L394.2,413.8 L394.9,413.2 L395.6,414.1 L396.2,413.8 L396.9,411.9 L397.6,411.1 L398.2,411.3 L398.9,412.3 L399.5,414.1 L400.1,415.0 L400.8,414.4 L401.4,414.3 L402.0,415.5 L402.7,416.1 L403.3,415.8 L403.9,415.6 L404.5,415.7 L405.2,415.7 L405.8,415.2 L406.4,415.1 L407.1,415.8 L407.7,415.6 L408.4,414.9 L409.0,414.6 L409.7,414.3 L410.4,414.1 L411.1,415.0 L411.8,415.1 L412.5,413.7 L413.2,413.1 L413.9,413.4 L414.6,414.4 L415.3,414.1 L416.0,413.7 L416.7,415.2 L417.4,415.5 L418.1,414.7 L418.8,414.3 L419.4,414.1 L420.1,414.5 L420.7,414.5 L421.3,414.2 L421.8,415.2 L422.4,416.0 L422.9,416.5 L423.4,417.8 L423.8,418.4 L424.3,419.1 L424.7,420.8 L425.2,421.5 L425.7,421.5 L426.2,421.8 L426.8,422.3 L427.3,422.5 L427.9,422.9 L428.5,423.1 L429.2,423.0 L429.8,423.4 L430.4,422.7 L431.1,422.2 L431.8,423.0 L432.5,423.2 L433.2,423.4 L433.9,423.0 L434.6,421.6 L435.4,420.9 L436.1,421.5 L436.8,422.0 L437.4,422.2 L438.1,422.3 L438.8,421.6 L439.5,421.2 L440.2,422.0 L440.9,422.0 L441.6,421.3 L442.3,421.6 L443.0,422.5 L443.8,422.1 L444.5,421.1 L445.2,422.0 L446.0,423.0 L446.6,422.0 L447.2,420.9 L447.8,420.6 L448.2,420.2 L448.6,420.0 L449.0,420.7 L449.4,421.3 L449.8,421.0 L450.2,419.7 L450.6,418.2 L451.0,417.3 L451.6,417.1 L452.2,417.6 L452.8,417.9 L453.5,418.2 L454.2,418.3 L454.9,418.6 L455.5,419.2 L456.2,419.5 L456.8,419.1 L457.5,419.1 L458.2,420.3 L458.8,421.0 L459.4,421.3 L460.1,421.9 L460.7,421.6 L461.3,421.3 L461.9,422.3 L462.4,423.2 L463.0,423.1 L463.6,423.4 L464.2,424.4 L464.9,424.6 L465.5,424.4 L466.2,425.1 L466.8,425.4 L467.5,425.2 L468.1,424.8 L468.8,424.6 L469.5,423.9 L470.1,422.9 L470.8,422.6 L471.5,423.4 L472.2,424.5 L473.0,424.2 L473.7,424.0 L474.4,424.7 L475.0,424.9 L475.6,424.7 L476.2,424.4 L476.7,424.3 L477.3,424.6 L477.9,425.1 L478.4,425.4 L479.0,425.3 L479.6,424.4 L480.1,423.3 L480.7,422.6 L481.3,422.5 L481.9,422.2 L482.5,422.0 L483.1,423.2 L483.7,424.1 L484.4,423.6 L485.0,423.7 L485.7,424.3 L486.3,423.4 L487.0,423.5 L487.8,425.2 L488.5,425.6 L489.1,424.5 L489.8,424.1 L490.3,424.6 L490.8,424.9 L491.3,424.3 L491.8,423.0 L492.2,422.0 L492.7,421.8 L493.1,422.4 L493.5,422.2 L493.9,420.8 L494.4,420.4 L494.9,420.8 L495.4,420.2 L495.9,418.9 L496.4,419.4 L496.9,420.5 L497.5,420.6 L498.0,421.6 L498.6,423.0 L499.1,423.2 L499.6,423.0 L500.2,422.7 L500.7,423.5 L501.2,425.5 L501.8,425.8 L502.3,425.6 L502.8,427.1 L503.4,427.6 L504.0,427.3 L504.6,427.3 L505.2,426.6 L505.9,426.9 L506.6,428.2 L507.3,428.2 L508.0,427.6 L508.7,427.3 L509.3,427.1 L510.0,427.4 L510.7,428.3 L511.3,428.5 L512.0,428.6 L512.7,428.9 L513.4,428.2 L514.1,428.4 L514.8,429.5 L515.5,428.8 L516.2,427.8 L516.9,427.8 L517.6,427.4 L518.3,427.9 L519.0,428.7 L519.7,428.4 L520.3,428.5 L521.0,428.4 L521.7,428.4 L522.4,429.4 L523.1,429.0 L523.8,428.1 L524.5,428.7 L525.2,429.6 L525.8,429.5 L526.5,429.2 L527.2,429.4 L527.9,429.8 L528.6,431.0 L529.2,432.6 L529.9,432.8 L530.6,432.4 L531.2,432.1 L531.9,431.5 L532.5,432.0 L533.1,432.2 L533.7,431.2 L534.3,430.8 L534.9,430.1 L535.5,429.6 L536.1,429.9 L536.7,429.4 L537.3,428.4 L538.0,427.8 L538.7,428.0 L539.4,428.7 L540.1,428.5 L540.8,428.0 L541.5,428.1 L542.2,428.1 L542.8,428.7 L543.5,429.3 L544.1,428.8 L544.8,428.5 L545.4,429.0 L546.0,429.7 L546.7,429.3 L547.3,429.3 L547.9,430.7 L548.6,431.3 L549.2,430.7 L549.8,431.2 L550.5,432.4 L551.1,431.9 L551.7,431.7 L552.4,432.5 L553.1,432.2 L553.7,432.0 L554.4,432.3 L555.1,431.9 L555.8,431.1 L556.5,431.0 L557.2,431.1 L557.9,431.2 L558.6,431.7 L559.3,430.8 L560.0,429.8 L560.7,429.7 L561.4,430.5 L562.1,431.5 L562.8,431.5 L563.5,431.7 L564.2,431.3 L564.9,430.2 L565.5,430.7 L566.2,431.0 L566.9,430.6 L567.6,430.9 L568.3,430.6 L569.0,430.5 L569.7,430.4 L570.4,429.8 L571.1,429.7 L571.8,429.3 L572.4,428.6 L573.1,428.3 L573.7,428.4 L574.4,429.3 L575.0,430.9 L575.7,431.3 L576.3,429.9 L577.0,429.8 L577.6,431.7 L578.3,433.4 L578.9,433.9 L579.6,433.8 L580.2,433.6 L580.9,432.8 L581.5,432.7 L582.2,434.0 L582.8,434.4 L583.5,433.5 L584.1,432.7 L584.8,432.8 L585.4,434.0 L586.1,435.1 L586.7,434.8 L587.3,433.9 L588.0,433.3 L588.6,432.7 L589.2,431.7 L589.9,431.3 L590.5,431.3 L591.2,431.4 L591.9,431.7 L592.6,431.2 L593.3,431.3 L594.0,431.8 L594.6,431.1 L595.3,431.0 L596.0,431.0 L596.7,430.3 L597.4,429.8 L598.1,430.4 L598.8,430.8 L599.5,430.4 L600.2,430.0 L600.9,429.4 L601.6,429.7 L602.2,430.0 L602.9,429.5 L603.6,429.3 L604.3,429.1 L605.0,429.3 L605.7,429.5 L606.4,429.2 L607.1,428.4 L607.8,427.6 L608.5,427.3 L609.2,427.4 L609.9,427.7 L610.6,427.6 L611.3,428.4 L612.0,429.8 L612.7,429.8 L613.4,428.5 L614.1,427.2 L614.8,427.9 L615.5,429.4 L616.2,429.4 L616.9,429.2 L617.6,429.6 L618.3,429.6 L619.0,429.6 L619.8,429.3 L620.5,428.9 L621.3,429.3 L622.0,430.4 L622.8,430.5 L623.4,429.1 L624.1,428.9 L624.7,429.6 L625.2,429.5 L625.7,428.9 L626.1,428.1 L626.5,427.3 L626.9,426.0 L627.3,424.2 L627.7,423.4 L628.1,423.6 L628.5,424.0 L629.0,424.1 L629.5,424.5 L630.0,424.7 L630.6,425.1 L631.1,426.6 L631.7,427.5 L632.3,427.3 L633.0,426.9 L633.6,426.3 L634.3,426.2 L635.0,426.8 L635.6,427.0 L636.3,426.5 L636.9,426.5 L637.5,426.7 L638.2,426.8 L638.8,426.8 L639.5,426.0 L640.2,425.0 L640.9,424.9 L641.6,425.4 L642.3,425.5 L643.0,425.3 L643.7,425.6 L644.3,426.5 L645.0,427.0 L645.7,426.6 L646.4,425.9 L647.1,426.2 L647.8,426.4 L648.5,425.7 L649.1,426.0 L649.8,426.6 L650.5,426.5 L651.2,426.8 L651.9,427.2 L652.6,426.8 L653.3,425.4 L654.0,424.8 L654.7,425.8 L655.4,426.7 L656.1,426.6 L656.8,426.3 L657.5,426.4 L658.2,426.0 L658.9,425.2 L659.6,425.0 L660.3,426.0 L661.0,427.0 L661.7,426.7 L662.4,426.2 L663.1,426.6 L663.8,428.0 L664.5,428.1 L665.2,426.6 L665.9,426.7 L666.5,427.7 L667.2,427.0 L667.9,426.6 L668.6,427.1 L669.4,426.6 L670.1,426.7 L670.8,428.3 L671.5,428.8 L672.1,428.2 L672.8,428.6 L673.4,428.9 L674.1,428.4 L674.7,427.1 L675.3,426.4 L676.0,426.2 L676.6,425.3 L677.2,424.6 L677.9,424.9 L678.6,425.7 L679.3,425.1 L680.0,424.6 L680.7,425.0 L681.4,424.0 L682.1,423.2 L682.8,424.1 L683.5,424.7 L684.2,424.7 L684.8,424.6 L685.4,424.7 L685.9,425.4 L686.4,425.4 L686.9,425.7 L687.4,426.5 L687.9,426.3 L688.5,426.8 L689.0,428.6 L689.5,429.5 L690.1,429.0 L690.7,429.0 L691.2,430.4 L691.8,431.0 L692.3,430.4 L692.9,430.5 L693.4,430.7 L694.0,430.5 L694.5,429.7 L695.1,428.6 L695.6,427.8 L696.2,426.6 L696.8,426.5 L697.4,427.4 L698.0,427.8 L698.6,428.2 L699.2,428.5 L699.9,428.3 L700.5,427.9 L701.1,428.2 L701.7,428.6 L702.4,428.8 L703.0,429.6 L703.6,430.9 L704.2,431.6 L704.9,430.6 L705.5,429.5 L706.2,429.5 L706.9,429.4 L707.5,429.2 L708.2,429.2 L708.9,429.4 L709.6,429.7 L710.3,429.8 L711.0,429.6 L711.7,429.4 L712.4,429.2 L713.0,428.4 L713.7,427.9 L714.4,427.3 L715.1,427.5 L715.8,428.5 L716.5,428.3 L717.2,427.3 L717.9,427.3 L718.6,428.6 L719.3,428.4 L720.0,427.3 L720.6,427.7 L721.3,428.0 L722.0,427.4 L722.7,427.8 L723.4,429.6 L724.0,430.4 L724.7,429.3 L725.3,428.8 L726.0,430.0 L726.6,431.4 L727.3,432.1 L728.0,432.3 L728.6,432.3 L729.4,431.6 L730.1,431.0 L730.8,432.0 L731.5,432.9 L732.1,432.0 L732.8,431.6 L733.3,432.4 L733.9,432.3 L734.4,430.6 L735.0,429.1 L735.5,428.8 L736.0,429.0 L736.5,429.4 L737.0,429.3 L737.5,427.9 L738.1,426.9 L738.6,426.5 L739.1,426.1 L739.6,425.2 L740.1,423.9 L740.6,423.8 L741.1,424.2 L741.6,423.6 L742.2,422.5 L742.8,421.8 L743.4,421.7 L744.0,422.8 L744.7,424.5 L745.3,425.2 L746.0,425.3 L746.7,425.3 L747.4,424.4 L748.1,423.5 L748.8,423.5 L749.5,423.2 L750.2,422.9 L750.7,424.4 L751.3,426.4 L751.8,426.5 L752.3,426.1 L752.8,426.3 L753.4,426.0 L753.9,425.8 L754.6,426.2 L755.2,426.4 L756.0,426.4 L756.7,426.4 L757.4,427.1 L758.1,428.6 L758.7,429.2 L759.4,427.8 L760.1,426.3 L760.8,425.7 L761.4,426.4 L762.1,427.6 L762.8,427.2 L763.4,426.6 L764.1,427.1 L764.7,427.5 L765.4,428.1 L766.0,428.7 L766.6,429.4 L767.2,430.2 L767.8,429.8 L768.4,429.5 L769.0,430.3 L769.6,430.7 L770.2,430.8 L770.8,431.5 L771.5,431.1 L772.2,430.1 L772.9,430.6 L773.5,430.7 L774.1,429.9 L774.7,429.2 L775.2,428.2 L775.7,426.7 L776.2,426.5 L776.7,427.2 L777.3,426.9 L777.8,426.4 L778.3,426.5 L778.9,426.4 L779.4,425.4 L780.0,424.2 L780.5,423.3 L781.1,423.1 L781.7,423.7 L782.3,423.2 L782.9,422.6 L783.6,424.2 L784.2,425.8 L784.9,425.9 L785.6,425.5 L786.2,425.5 L786.9,425.9 L787.6,425.1 L788.3,424.2 L788.9,424.8 L789.5,425.1 L790.1,424.3 L790.7,424.3 L791.3,424.6 L791.9,425.1 L792.5,425.7 L793.2,425.9 L793.9,426.2 L794.6,426.0 L795.2,426.0 L795.9,427.1 L796.4,427.0 L797.0,425.9 L797.6,425.2 L798.2,424.0 L798.8,423.2 L799.4,423.2 L800.0,423.0 L800.6,422.3 L801.2,422.0 L801.9,422.4 L802.6,422.6 L803.3,422.6 L804.0,422.2 L804.6,421.7 L805.1,421.7" fill="none" stroke="#ff0000" stroke-width="6.6" stroke-linejoin="round" stroke-linecap="butt" />
<path d="M119.7,296.4 L120.4,296.1 L121.1,295.7 L121.6,295.3 L122.2,294.9 L122.6,294.4 L123.1,294.0 L123.6,293.5 L124.0,293.0 L124.5,292.5 L124.9,291.9 L125.3,291.4 L125.7,290.8 L126.1,290.3 L126.5,289.7 L126.9,289.1 L127.3,288.6 L127.7,288.0 L128.1,287.4 L128.5,286.8 L128.9,286.2 L129.3,285.6 L129.7,285.0 L130.1,284.4 L130.5,283.8 L130.9,283.3 L131.3,282.7 L131.7,282.1 L132.1,281.5 L132.5,280.9 L132.9,280.3 L133.2,279.7 L133.6,279.1 L134.0,278.5 L134.4,278.0 L134.8,277.4 L135.2,276.8 L135.5,276.2 L135.9,275.6 L136.3,275.0 L136.7,274.4 L137.1,273.8 L137.4,273.3 L137.8,272.7 L138.2,272.1 L138.6,271.5 L138.9,270.9 L139.3,270.3 L139.7,269.7 L140.1,269.1 L140.4,268.5 L140.8,267.9 L141.2,267.3 L141.5,266.7 L141.9,266.1 L142.3,265.5 L142.6,264.9 L143.0,264.3 L143.3,263.7 L143.7,263.1 L144.1,262.5 L144.4,261.9 L144.8,261.3 L145.1,260.7 L145.5,260.1 L145.9,259.5 L146.2,258.9 L146.6,258.3 L146.9,257.7 L147.3,257.1 L147.6,256.5 L148.0,255.9 L148.3,255.3 L148.7,254.7 L149.0,254.1 L149.4,253.5 L149.7,252.9 L150.1,252.2 L150.4,251.6 L150.8,251.0 L151.1,250.4 L151.4,249.8 L151.8,249.2 L152.1,248.6 L152.5,248.0 L152.8,247.4 L153.1,246.8 L153.5,246.1 L153.8,245.5 L154.2,244.9 L154.5,244.3 L154.8,243.7 L155.2,243.1 L155.5,242.5 L155.8,241.8 L156.2,241.2 L156.5,240.6 L156.8,240.0 L157.2,239.4 L157.5,238.8 L157.8,238.1 L158.2,237.5 L158.5,236.9 L158.8,236.3 L159.2,235.7 L159.5,235.1 L159.8,234.5 L160.2,233.8 L160.5,233.2 L160.9,232.6 L161.2,232.0 L161.5,231.4 L161.9,230.8 L162.2,230.2 L162.5,229.5 L162.9,228.9 L163.2,228.3 L163.6,227.7 L163.9,227.1 L164.3,226.5 L164.6,225.9 L165.0,225.3 L165.3,224.7 L165.7,224.1 L166.0,223.5 L166.4,222.9 L166.7,222.3 L167.1,221.7 L167.4,221.0 L167.8,220.4 L168.1,219.8 L168.5,219.2 L168.8,218.6 L169.2,218.0 L169.6,217.4 L169.9,216.8 L170.3,216.2 L170.6,215.6 L171.0,215.0 L171.4,214.4 L171.7,213.8 L172.1,213.2 L172.4,212.6 L172.8,212.0 L173.2,211.4 L173.5,210.8 L173.9,210.2 L174.2,209.6 L174.6,209.0 L175.0,208.4 L175.3,207.8 L175.7,207.2 L176.0,206.6 L176.4,206.0 L176.7,205.4 L177.1,204.8 L177.4,204.2 L177.8,203.6 L178.1,203.0 L178.5,202.4 L178.8,201.8 L179.2,201.2 L179.5,200.6 L179.9,199.9 L180.2,199.3 L180.6,198.7 L180.9,198.1 L181.2,197.5 L181.6,196.9 L181.9,196.3 L182.3,195.7 L182.6,195.1 L182.9,194.4 L183.3,193.8 L183.6,193.2 L183.9,192.6 L184.3,192.0 L184.6,191.4 L184.9,190.7 L185.2,190.1 L185.6,189.5 L185.9,188.9 L186.2,188.3 L186.5,187.6 L186.9,187.0 L187.2,186.4 L187.5,185.8 L187.8,185.2 L188.2,184.5 L188.5,183.9 L188.8,183.3 L189.1,182.7 L189.4,182.0 L189.8,181.4 L190.1,180.8 L190.4,180.2 L190.7,179.6 L191.0,178.9 L191.4,178.3 L191.7,177.7 L192.0,177.1 L192.3,176.5 L192.7,175.8 L193.0,175.2 L193.3,174.6 L193.6,174.0 L194.0,173.3 L194.3,172.7 L194.6,172.1 L194.9,171.5 L195.3,170.9 L195.6,170.2 L195.9,169.6 L196.2,169.0 L196.6,168.4 L196.9,167.8 L197.2,167.2 L197.6,166.5 L197.9,165.9 L198.2,165.3 L198.6,164.7 L198.9,164.1 L199.2,163.5 L199.6,162.8 L199.9,162.2 L200.2,161.6 L200.6,161.0 L200.9,160.4 L201.2,159.8 L201.6,159.2 L201.9,158.5 L202.2,157.9 L202.6,157.3 L202.9,156.7 L203.3,156.1 L203.6,155.5 L203.9,154.9 L204.3,154.3 L204.6,153.6 L204.9,153.0 L205.3,152.4 L205.6,151.8 L206.0,151.2 L206.3,150.6 L206.6,150.0 L207.0,149.4 L207.3,148.7 L207.7,148.1 L208.0,147.5 L208.4,146.9 L208.7,146.3 L209.0,145.7 L209.4,145.1 L209.7,144.5 L210.1,143.9 L210.4,143.2 L210.7,142.6 L211.1,142.0 L211.4,141.4 L211.8,140.8 L212.1,140.2 L212.5,139.6 L212.8,139.0 L213.1,138.4 L213.5,137.7 L213.8,137.1 L214.2,136.5 L214.5,135.9 L214.8,135.3 L215.2,134.7 L215.5,134.1 L215.9,133.5 L216.2,132.8 L216.5,132.2 L216.9,131.6 L217.2,131.0 L217.5,130.4 L217.9,129.8 L218.2,129.2 L218.6,128.5 L218.9,127.9 L219.2,127.3 L219.6,126.7 L219.9,126.1 L220.3,125.5 L220.6,124.9 L221.0,124.3 L221.3,123.6 L221.6,123.0 L222.0,122.4 L222.3,121.8 L222.7,121.2 L223.1,120.6 L223.4,120.0 L223.8,119.4 L224.1,118.8 L224.5,118.2 L224.9,117.6 L225.2,117.0 L225.6,116.4 L226.0,115.9 L226.4,115.3 L226.7,114.7 L227.1,114.1 L227.5,113.5 L227.9,113.0 L228.3,112.4 L228.7,111.8 L229.1,111.2 L229.5,110.7 L229.9,110.1 L230.3,109.5 L230.7,109.0 L231.2,108.4 L231.6,107.8 L232.0,107.3 L232.4,106.7 L232.9,106.2 L233.3,105.6 L233.7,105.1 L234.1,104.5 L234.6,104.0 L235.0,103.4 L235.5,102.9 L235.9,102.3 L236.3,101.8 L236.8,101.2 L237.2,100.7 L237.7,100.2 L238.1,99.6 L238.5,99.1 L239.0,98.5 L239.4,98.0 L239.9,97.5 L240.3,96.9 L240.8,96.4 L241.2,95.8 L241.7,95.3 L242.2,94.8 L242.6,94.2 L243.1,93.7 L243.5,93.2 L244.0,92.7 L244.5,92.1 L244.9,91.6 L245.4,91.1 L245.9,90.6 L246.3,90.1 L246.8,89.5 L247.3,89.0 L247.8,88.5 L248.3,88.0 L248.7,87.5 L249.2,87.0 L249.7,86.5 L250.2,86.1 L250.8,85.6 L251.3,85.1 L251.8,84.6 L252.3,84.2 L252.8,83.7 L253.4,83.3 L253.9,82.8 L254.5,82.4 L255.0,82.0 L255.6,81.6 L256.1,81.2 L256.7,80.8 L257.3,80.4 L257.9,80.0 L258.5,79.7 L259.1,79.3 L259.7,79.0 L260.3,78.6 L260.9,78.3 L261.5,78.0 L262.1,77.7 L262.8,77.4 L263.4,77.1 L264.0,76.8 L264.7,76.5 L265.3,76.3 L266.0,76.0 L266.6,75.8 L267.3,75.5 L268.0,75.3 L268.6,75.1 L269.3,74.8 L269.9,74.6 L270.6,74.4 L271.3,74.2 L271.9,74.0 L272.6,73.8 L273.3,73.6 L274.0,73.5 L274.6,73.3 L275.3,73.1 L276.0,72.9 L276.7,72.8 L277.4,72.6 L278.0,72.5 L278.7,72.3 L279.4,72.2 L280.1,72.0 L280.8,71.9 L281.5,71.8 L282.2,71.6 L282.9,71.5 L283.5,71.4 L284.2,71.3 L284.9,71.1 L285.6,71.0 L286.3,70.9 L287.0,70.8 L287.7,70.7 L288.4,70.6 L289.1,70.5 L289.8,70.4 L290.5,70.3 L291.2,70.3 L291.9,70.2 L292.5,70.1 L293.2,70.0 L293.9,69.9 L294.6,69.9 L295.3,69.8 L296.0,69.7 L296.7,69.7 L297.4,69.6 L298.1,69.5 L298.8,69.5 L299.5,69.4 L300.2,69.3 L300.9,69.3 L301.6,69.2 L302.3,69.2 L303.0,69.1 L303.7,69.1 L304.4,69.0 L305.1,69.0 L305.8,68.9 L306.5,68.9 L307.2,68.8 L307.9,68.8 L308.6,68.8 L309.3,68.7 L310.0,68.7 L310.7,68.6 L311.4,68.6 L312.1,68.6 L312.8,68.5 L313.5,68.5 L314.2,68.4 L314.9,68.4 L315.6,68.4 L316.3,68.4 L317.0,68.3 L317.7,68.3 L318.4,68.3 L319.1,68.2 L319.8,68.2 L320.5,68.2 L321.2,68.2 L321.9,68.1 L322.6,68.1 L323.3,68.1 L324.0,68.1 L324.7,68.1 L325.4,68.0 L326.1,68.0 L326.8,68.0 L327.5,68.0 L328.2,68.0 L328.9,68.0 L329.6,67.9 L330.3,67.9 L331.0,67.9 L331.7,67.9 L332.4,67.9 L333.1,67.9 L333.8,67.9 L334.5,67.8 L335.2,67.8 L335.9,67.8 L336.6,67.8 L337.3,67.8 L338.0,67.8 L338.7,67.8 L339.4,67.8 L340.1,67.8 L340.8,67.8 L341.5,67.7 L342.2,67.7 L342.9,67.7 L343.6,67.7 L344.3,67.7 L345.0,67.7 L345.7,67.7 L346.4,67.7 L347.1,67.7 L347.8,67.7 L348.5,67.7 L349.2,67.7 L349.9,67.7 L350.6,67.7 L351.3,67.7 L352.0,67.7 L352.7,67.7 L353.4,67.7 L354.1,67.7 L354.8,67.7 L355.5,67.7 L356.2,67.7 L356.9,67.7 L357.6,67.7 L358.3,67.7 L359.0,67.7 L359.7,67.7 L360.4,67.7 L361.1,67.7 L361.8,67.7 L362.5,67.7 L363.2,67.7 L363.9,67.7 L364.6,67.7 L365.3,67.7 L366.0,67.7 L366.7,67.7 L367.4,67.7 L368.1,67.7 L368.8,67.7 L369.5,67.7 L370.2,67.7 L370.9,67.7 L371.6,67.7 L372.3,67.7 L373.0,67.7 L373.7,67.7 L374.4,67.7 L375.1,67.7 L375.8,67.7 L376.5,67.7 L377.2,67.7 L377.9,67.7 L378.6,67.7 L379.3,67.7 L380.0,67.7 L380.7,67.7 L381.4,67.7 L382.1,67.7 L382.8,67.7 L383.5,67.7 L384.2,67.7 L384.9,67.7 L385.6,67.7 L386.3,67.7 L387.0,67.7 L387.7,67.7 L388.4,67.7 L389.1,67.7 L389.8,67.7 L390.5,67.7 L391.2,67.7 L391.9,67.7 L392.6,67.7 L393.3,67.7 L394.0,67.7 L394.7,67.7 L395.4,67.7 L396.1,67.7 L396.8,67.7 L397.5,67.7 L398.2,67.7 L398.9,67.7 L399.6,67.7 L400.3,67.7 L401.0,67.7 L401.7,67.7 L402.4,67.7 L403.1,67.7 L403.8,67.7 L404.5,67.7 L405.2,67.7 L405.9,67.7 L406.6,67.7 L407.3,67.7 L408.0,67.7 L408.7,67.7 L409.4,67.7 L410.1,67.7 L410.8,67.7 L411.5,67.7 L412.2,67.7 L412.9,67.7 L413.6,67.7 L414.3,67.7 L415.0,67.7 L415.7,67.7 L416.4,67.7 L417.1,67.7 L417.8,67.7 L418.5,67.7 L419.2,67.7 L419.9,67.7 L420.6,67.7 L421.3,67.7 L422.0,67.7 L422.7,67.7 L423.4,67.7 L424.1,67.7 L424.8,67.7 L425.5,67.7 L426.2,67.7 L426.9,67.7 L427.6,67.7 L428.3,67.7 L429.0,67.7 L429.7,67.7 L430.4,67.7 L431.1,67.7 L431.8,67.7 L432.5,67.7 L433.2,67.7 L433.9,67.7 L434.6,67.7 L435.3,67.7 L436.0,67.7 L436.7,67.7 L437.4,67.7 L438.1,67.7 L438.8,67.7 L439.5,67.7 L440.2,67.7 L440.9,67.7 L441.6,67.7 L442.3,67.7 L443.0,67.7 L443.7,67.7 L444.4,67.7 L445.1,67.7 L445.8,67.7 L446.5,67.7 L447.2,67.7 L447.9,67.7 L448.6,67.7 L449.3,67.7 L450.0,67.7 L450.7,67.7 L451.4,67.7 L452.1,67.7 L452.8,67.7 L453.5,67.7 L454.2,67.7 L454.9,67.7 L455.6,67.7 L456.3,67.7 L457.0,67.7 L457.7,67.7 L458.4,67.7 L459.1,67.7 L459.8,67.7 L460.5,67.7 L461.2,67.7 L461.9,67.7 L462.6,67.7 L463.3,67.7 L464.0,67.7 L464.7,67.7 L465.4,67.7 L466.1,67.7 L466.8,67.7 L467.5,67.7 L468.2,67.7 L468.9,67.7 L469.6,67.7 L470.3,67.7 L471.0,67.7 L471.7,67.7 L472.4,67.7 L473.1,67.7 L473.8,67.7 L474.5,67.7 L475.2,67.7 L475.9,67.7 L476.6,67.7 L477.3,67.7 L478.0,67.7 L478.7,67.7 L479.4,67.7 L480.1,67.7 L480.8,67.7 L481.5,67.7 L482.2,67.7 L482.9,67.7 L483.6,67.7 L484.3,67.7 L485.0,67.7 L485.7,67.7 L486.4,67.7 L487.1,67.7 L487.8,67.7 L488.5,67.7 L489.2,67.7 L489.9,67.7 L490.6,67.7 L491.3,67.7 L492.0,67.7 L492.7,67.7 L493.4,67.7 L494.1,67.7 L494.8,67.7 L495.5,67.7 L496.2,67.7 L496.9,67.7 L497.6,67.7 L498.3,67.7 L499.0,67.7 L499.7,67.7 L500.4,67.7 L501.1,67.7 L501.8,67.7 L502.5,67.7 L503.2,67.7 L503.9,67.7 L504.6,67.7 L505.3,67.7 L506.0,67.7 L506.7,67.7 L507.4,67.7 L508.1,67.7 L508.8,67.7 L509.5,67.7 L510.2,67.7 L510.9,67.7 L511.6,67.7 L512.3,67.7 L513.0,67.7 L513.7,67.7 L514.4,67.7 L515.1,67.7 L515.8,67.7 L516.5,67.7 L517.2,67.7 L517.9,67.7 L518.6,67.7 L519.3,67.7 L520.0,67.7 L520.7,67.7 L521.4,67.7 L522.1,67.7 L522.8,67.7 L523.5,67.7 L524.2,67.7 L524.9,67.7 L525.6,67.7 L526.3,67.7 L527.0,67.7 L527.7,67.7 L528.4,67.7 L529.1,67.7 L529.8,67.7 L530.5,67.7 L531.2,67.7 L531.9,67.7 L532.6,67.7 L533.3,67.7 L534.0,67.7 L534.7,67.7 L535.4,67.7 L536.1,67.7 L536.8,67.7 L537.5,67.7 L538.2,67.7 L538.9,67.7 L539.6,67.7 L540.3,67.7 L541.0,67.7 L541.7,67.7 L542.4,67.7 L543.1,67.7 L543.8,67.7 L544.5,67.7 L545.2,67.7 L545.9,67.7 L546.6,67.7 L547.3,67.7 L548.0,67.7 L548.7,67.7 L549.4,67.7 L550.1,67.7 L550.8,67.7 L551.5,67.7 L552.2,67.7 L552.9,67.7 L553.6,67.7 L554.3,67.7 L555.0,67.7 L555.7,67.7 L556.4,67.7 L557.1,67.7 L557.8,67.7 L558.5,67.7 L559.2,67.7 L559.9,67.7 L560.6,67.7 L561.3,67.7 L562.0,67.7 L562.7,67.7 L563.4,67.7 L564.1,67.7 L564.8,67.7 L565.5,67.7 L566.2,67.7 L566.9,67.7 L567.6,67.7 L568.3,67.7 L569.0,67.7 L569.7,67.7 L570.4,67.7 L571.1,67.7 L571.8,67.7 L572.5,67.7 L573.2,67.7 L573.9,67.7 L574.6,67.7 L575.3,67.7 L576.0,67.7 L576.7,67.7 L577.4,67.7 L578.1,67.7 L578.8,67.7 L579.5,67.7 L580.2,67.7 L580.9,67.7 L581.6,67.7 L582.3,67.7 L583.0,67.7 L583.7,67.7 L584.4,67.7 L585.1,67.7 L585.8,67.7 L586.5,67.7 L587.2,67.7 L587.9,67.7 L588.6,67.7 L589.3,67.7 L590.0,67.7 L590.7,67.7 L591.4,67.7 L592.1,67.7 L592.8,67.7 L593.5,67.7 L594.2,67.7 L594.9,67.7 L595.6,67.7 L596.3,67.7 L597.0,67.7 L597.7,67.7 L598.4,67.7 L599.1,67.7 L599.8,67.7 L600.5,67.7 L601.2,67.7 L601.9,67.7 L602.6,67.7 L603.3,67.7 L604.0,67.7 L604.7,67.7 L605.4,67.7 L606.1,67.7 L606.8,67.7 L607.5,67.7 L608.2,67.7 L608.9,67.7 L609.6,67.7 L610.3,67.7 L611.0,67.7 L611.7,67.7 L612.4,67.7 L613.1,67.7 L613.8,67.7 L614.5,67.7 L615.2,67.7 L615.9,67.7 L616.6,67.7 L617.3,67.7 L618.0,67.7 L618.7,67.7 L619.4,67.7 L620.1,67.7 L620.8,67.7 L621.5,67.7 L622.2,67.7 L622.9,67.7 L623.6,67.7 L624.3,67.7 L625.0,67.7 L625.7,67.7 L626.4,67.7 L627.1,67.7 L627.8,67.7 L628.5,67.7 L629.2,67.7 L629.9,67.7 L630.6,67.7 L631.3,67.7 L632.0,67.7 L632.7,67.7 L633.4,67.7 L634.1,67.7 L634.8,67.7 L635.5,67.7 L636.2,67.7 L636.9,67.7 L637.6,67.7 L638.3,67.7 L639.0,67.7 L639.7,67.7 L640.4,67.7 L641.1,67.7 L641.8,67.7 L642.5,67.7 L643.2,67.7 L643.9,67.7 L644.6,67.7 L645.3,67.7 L646.0,67.7 L646.7,67.7 L647.4,67.7 L648.1,67.7 L648.8,67.7 L649.5,67.7 L650.2,67.7 L650.9,67.7 L651.6,67.7 L652.3,67.7 L653.0,67.7 L653.7,67.7 L654.4,67.7 L655.1,67.7 L655.8,67.7 L656.5,67.7 L657.2,67.7 L657.9,67.7 L658.6,67.7 L659.3,67.7 L660.0,67.7 L660.7,67.7 L661.4,67.7 L662.1,67.7 L662.8,67.7 L663.5,67.7 L664.2,67.7 L664.9,67.7 L665.6,67.7 L666.3,67.7 L667.0,67.7 L667.7,67.7 L668.4,67.7 L669.1,67.7 L669.8,67.7 L670.5,67.7 L671.2,67.7 L671.9,67.7 L672.6,67.7 L673.3,67.7 L674.0,67.7 L674.7,67.7 L675.4,67.7 L676.1,67.7 L676.8,67.7 L677.5,67.7 L678.2,67.7 L678.9,67.7 L679.6,67.7 L680.3,67.7 L681.0,67.7 L681.7,67.7 L682.4,67.7 L683.1,67.7 L683.8,67.7 L684.5,67.7 L685.2,67.7 L685.9,67.7 L686.6,67.7 L687.3,67.7 L688.0,67.7 L688.7,67.7 L689.4,67.7 L690.1,67.7 L690.8,67.7 L691.5,67.7 L692.2,67.7 L692.9,67.7 L693.6,67.7 L694.3,67.7 L695.0,67.7 L695.7,67.7 L696.4,67.7 L697.1,67.7 L697.8,67.7 L698.5,67.7 L699.2,67.7 L699.9,67.7 L700.6,67.7 L701.3,67.7 L702.0,67.7 L702.7,67.7 L703.4,67.7 L704.1,67.7 L704.8,67.7 L705.5,67.7 L706.2,67.7 L706.9,67.7 L707.6,67.7 L708.3,67.7 L709.0,67.7 L709.7,67.7 L710.4,67.7 L711.1,67.7 L711.8,67.7 L712.5,67.7 L713.2,67.7 L713.9,67.7 L714.6,67.7 L715.3,67.7 L716.0,67.7 L716.7,67.7 L717.4,67.7 L718.1,67.7 L718.8,67.7 L719.5,67.7 L720.2,67.7 L720.9,67.7 L721.6,67.7 L722.3,67.7 L723.0,67.7 L723.7,67.7 L724.4,67.7 L725.1,67.7 L725.8,67.7 L726.5,67.7 L727.2,67.7 L727.9,67.7 L728.6,67.7 L729.3,67.7 L730.0,67.7 L730.7,67.7 L731.4,67.7 L732.1,67.7 L732.8,67.7 L733.5,67.7 L734.2,67.7 L734.9,67.7 L735.6,67.7 L736.3,67.7 L737.0,67.7 L737.7,67.7 L738.4,67.7 L739.1,67.7 L739.8,67.7 L740.5,67.7 L741.2,67.7 L741.9,67.7 L742.6,67.7 L743.3,67.7 L744.0,67.7 L744.7,67.7 L745.4,67.7 L746.1,67.7 L746.8,67.7 L747.5,67.7 L748.2,67.7 L748.9,67.7 L749.6,67.7 L750.3,67.7 L751.0,67.7 L751.7,67.7 L752.4,67.7 L753.1,67.7 L753.8,67.7 L754.5,67.7 L755.2,67.7 L755.9,67.7 L756.6,67.7 L757.3,67.7 L758.0,67.7 L758.7,67.7 L759.4,67.7 L760.1,67.7 L760.8,67.7 L761.5,67.7 L762.2,67.7 L762.9,67.7 L763.6,67.7 L764.3,67.7 L765.0,67.7 L765.7,67.7 L766.4,67.7 L767.1,67.7 L767.8,67.7 L768.5,67.7 L769.2,67.7 L769.9,67.7 L770.6,67.7 L771.3,67.7 L772.0,67.7 L772.7,67.7 L773.4,67.7 L774.1,67.7 L774.8,67.7 L775.5,67.7 L776.2,67.7 L776.9,67.7 L777.6,67.7 L778.3,67.7 L779.0,67.7 L779.7,67.7 L780.4,67.7 L781.1,67.7 L781.8,67.7 L782.5,67.7 L783.2,67.7 L783.9,67.7 L784.6,67.7 L785.3,67.7 L786.0,67.7 L786.7,67.7 L787.4,67.7 L788.1,67.7 L788.8,67.7 L789.5,67.7 L790.2,67.7 L790.9,67.7 L791.6,67.7 L792.3,67.7 L793.0,67.7 L793.7,67.7 L794.4,67.7 L795.0,67.7 L795.7,67.7 L796.4,67.7 L797.1,67.7 L797.8,67.7 L798.5,67.7 L799.1,67.7 L799.8,67.7 L800.5,67.7 L801.2,67.7 L801.9,67.7 L802.6,67.7 L803.3,67.7 L804.0,67.7 L804.8,67.7 L805.1,67.7" fill="none" stroke="#8e9cfc" stroke-width="7.0" stroke-linejoin="round" stroke-linecap="butt" />
</g>
<line x1="203.1" y1="101.5" x2="166.5" y2="101.5" stroke="#000" stroke-width="2.2"/>
<path d="M134.4,101.5 L181.7,89.9 L168.5,101.5 L181.7,113.1 Z" fill="#000"/>
<line x1="302.6" y1="202.4" x2="749.8" y2="202.4" stroke="#ff0000" stroke-width="2.6"/>
<path d="M782.1,202.4 L734.9,190.6 L747.8,202.4 L734.9,214.2 Z" fill="#ff0000"/>
<line x1="622.5" y1="95.3" x2="828.4" y2="95.3" stroke="#8e9cfc" stroke-width="2.2"/>
<path d="M860.9,95.3 L813.1,83.3 L826.4,95.3 L813.1,107.3 Z" fill="#8e9cfc"/>
<g stroke="#000" stroke-width="2.4" fill="none" stroke-linecap="butt">
<path d="M119.7,426.6 V1.0 H805.1 V426.6" stroke-linejoin="miter"/>
<path d="M119.7,445.2 V870.6 H805.1 V445.2" stroke-linejoin="miter"/>
<line x1="119.7" y1="425.40" x2="133.6" y2="425.40"/>
<line x1="119.7" y1="403.10" x2="126.6" y2="403.10"/>
<line x1="119.7" y1="380.80" x2="126.6" y2="380.80"/>
<line x1="119.7" y1="358.50" x2="126.6" y2="358.50"/>
<line x1="119.7" y1="336.20" x2="133.6" y2="336.20"/>
<line x1="119.7" y1="313.90" x2="126.6" y2="313.90"/>
<line x1="119.7" y1="291.60" x2="126.6" y2="291.60"/>
<line x1="119.7" y1="269.30" x2="126.6" y2="269.30"/>
<line x1="119.7" y1="247.00" x2="133.6" y2="247.00"/>
<line x1="119.7" y1="224.70" x2="126.6" y2="224.70"/>
<line x1="119.7" y1="202.40" x2="126.6" y2="202.40"/>
<line x1="119.7" y1="180.10" x2="126.6" y2="180.10"/>
<line x1="119.7" y1="157.80" x2="133.6" y2="157.80"/>
<line x1="119.7" y1="135.50" x2="126.6" y2="135.50"/>
<line x1="119.7" y1="113.20" x2="126.6" y2="113.20"/>
<line x1="119.7" y1="90.90" x2="126.6" y2="90.90"/>
<line x1="119.7" y1="68.60" x2="133.6" y2="68.60"/>
<line x1="119.7" y1="46.30" x2="126.6" y2="46.30"/>
<line x1="119.7" y1="24.00" x2="126.6" y2="24.00"/>
<line x1="805.1" y1="425.40" x2="791.2" y2="425.40"/>
<line x1="805.1" y1="407.56" x2="798.2" y2="407.56"/>
<line x1="805.1" y1="389.72" x2="798.2" y2="389.72"/>
<line x1="805.1" y1="371.88" x2="798.2" y2="371.88"/>
<line x1="805.1" y1="354.04" x2="798.2" y2="354.04"/>
<line x1="805.1" y1="336.20" x2="791.2" y2="336.20"/>
<line x1="805.1" y1="318.36" x2="798.2" y2="318.36"/>
<line x1="805.1" y1="300.52" x2="798.2" y2="300.52"/>
<line x1="805.1" y1="282.68" x2="798.2" y2="282.68"/>
<line x1="805.1" y1="264.84" x2="798.2" y2="264.84"/>
<line x1="805.1" y1="247.00" x2="791.2" y2="247.00"/>
<line x1="805.1" y1="229.16" x2="798.2" y2="229.16"/>
<line x1="805.1" y1="211.32" x2="798.2" y2="211.32"/>
<line x1="805.1" y1="193.48" x2="798.2" y2="193.48"/>
<line x1="805.1" y1="175.64" x2="798.2" y2="175.64"/>
<line x1="805.1" y1="157.80" x2="791.2" y2="157.80"/>
<line x1="805.1" y1="139.96" x2="798.2" y2="139.96"/>
<line x1="805.1" y1="122.12" x2="798.2" y2="122.12"/>
<line x1="805.1" y1="104.28" x2="798.2" y2="104.28"/>
<line x1="805.1" y1="86.44" x2="798.2" y2="86.44"/>
<line x1="805.1" y1="68.60" x2="791.2" y2="68.60"/>
<line x1="805.1" y1="50.76" x2="798.2" y2="50.76"/>
<line x1="805.1" y1="32.92" x2="798.2" y2="32.92"/>
<line x1="805.1" y1="15.08" x2="798.2" y2="15.08"/>
<line x1="176.82" y1="1.0" x2="176.82" y2="7.9"/>
<line x1="233.93" y1="1.0" x2="233.93" y2="14.9"/>
<line x1="291.05" y1="1.0" x2="291.05" y2="7.9"/>
<line x1="348.17" y1="1.0" x2="348.17" y2="14.9"/>
<line x1="405.28" y1="1.0" x2="405.28" y2="7.9"/>
<line x1="462.40" y1="1.0" x2="462.40" y2="14.9"/>
<line x1="519.52" y1="1.0" x2="519.52" y2="7.9"/>
<line x1="576.63" y1="1.0" x2="576.63" y2="14.9"/>
<line x1="633.75" y1="1.0" x2="633.75" y2="7.9"/>
<line x1="690.87" y1="1.0" x2="690.87" y2="14.9"/>
<line x1="747.98" y1="1.0" x2="747.98" y2="7.9"/>
<line x1="176.82" y1="870.6" x2="176.82" y2="863.7"/>
<line x1="233.93" y1="870.6" x2="233.93" y2="856.7"/>
<line x1="291.05" y1="870.6" x2="291.05" y2="863.7"/>
<line x1="348.17" y1="870.6" x2="348.17" y2="856.7"/>
<line x1="405.28" y1="870.6" x2="405.28" y2="863.7"/>
<line x1="462.40" y1="870.6" x2="462.40" y2="856.7"/>
<line x1="519.52" y1="870.6" x2="519.52" y2="863.7"/>
<line x1="576.63" y1="870.6" x2="576.63" y2="856.7"/>
<line x1="633.75" y1="870.6" x2="633.75" y2="863.7"/>
<line x1="690.87" y1="870.6" x2="690.87" y2="856.7"/>
<line x1="747.98" y1="870.6" x2="747.98" y2="863.7"/>
<line x1="119.7" y1="849.39" x2="133.6" y2="849.39"/>
<line x1="805.1" y1="849.39" x2="791.2" y2="849.39"/>
<line x1="119.7" y1="828.18" x2="126.6" y2="828.18"/>
<line x1="805.1" y1="828.18" x2="798.2" y2="828.18"/>
<line x1="119.7" y1="806.97" x2="126.6" y2="806.97"/>
<line x1="805.1" y1="806.97" x2="798.2" y2="806.97"/>
<line x1="119.7" y1="785.76" x2="126.6" y2="785.76"/>
<line x1="805.1" y1="785.76" x2="798.2" y2="785.76"/>
<line x1="119.7" y1="764.55" x2="126.6" y2="764.55"/>
<line x1="805.1" y1="764.55" x2="798.2" y2="764.55"/>
<line x1="119.7" y1="743.34" x2="133.6" y2="743.34"/>
<line x1="805.1" y1="743.34" x2="791.2" y2="743.34"/>
<line x1="119.7" y1="722.13" x2="126.6" y2="722.13"/>
<line x1="805.1" y1="722.13" x2="798.2" y2="722.13"/>
<line x1="119.7" y1="700.92" x2="126.6" y2="700.92"/>
<line x1="805.1" y1="700.92" x2="798.2" y2="700.92"/>
<line x1="119.7" y1="679.71" x2="126.6" y2="679.71"/>
<line x1="805.1" y1="679.71" x2="798.2" y2="679.71"/>
<line x1="119.7" y1="658.50" x2="126.6" y2="658.50"/>
<line x1="805.1" y1="658.50" x2="798.2" y2="658.50"/>
<line x1="119.7" y1="637.29" x2="133.6" y2="637.29"/>
<line x1="805.1" y1="637.29" x2="791.2" y2="637.29"/>
<line x1="119.7" y1="616.08" x2="126.6" y2="616.08"/>
<line x1="805.1" y1="616.08" x2="798.2" y2="616.08"/>
<line x1="119.7" y1="594.87" x2="126.6" y2="594.87"/>
<line x1="805.1" y1="594.87" x2="798.2" y2="594.87"/>
<line x1="119.7" y1="573.66" x2="126.6" y2="573.66"/>
<line x1="805.1" y1="573.66" x2="798.2" y2="573.66"/>
<line x1="119.7" y1="552.45" x2="126.6" y2="552.45"/>
<line x1="805.1" y1="552.45" x2="798.2" y2="552.45"/>
<line x1="119.7" y1="531.24" x2="133.6" y2="531.24"/>
<line x1="805.1" y1="531.24" x2="791.2" y2="531.24"/>
<line x1="119.7" y1="510.03" x2="126.6" y2="510.03"/>
<line x1="805.1" y1="510.03" x2="798.2" y2="510.03"/>
<line x1="119.7" y1="488.82" x2="126.6" y2="488.82"/>
<line x1="805.1" y1="488.82" x2="798.2" y2="488.82"/>
<line x1="119.7" y1="467.61" x2="126.6" y2="467.61"/>
<line x1="805.1" y1="467.61" x2="798.2" y2="467.61"/>
<line x1="119.7" y1="446.40" x2="126.6" y2="446.40"/>
<line x1="805.1" y1="446.40" x2="798.2" y2="446.40"/>
</g>
<clipPath id="cb"><rect x="119.5" y="440" width="700" height="440"/></clipPath>
<g clip-path="url(#cb)">
<path d="M119.7,760.3 L120.4,761.1 L121.1,761.6 L121.7,762.2 L122.4,762.8 L123.0,762.5 L123.6,762.0 L124.3,761.7 L124.9,762.1 L125.6,763.0 L126.2,763.8 L126.9,764.1 L127.6,763.5 L128.2,763.1 L128.9,763.9 L129.5,764.8 L130.2,764.6 L130.8,765.1 L131.5,765.6 L132.1,765.2 L132.8,765.9 L133.4,766.6 L134.1,766.3 L134.7,766.8 L135.4,767.2 L136.0,766.8 L136.7,767.3 L137.3,768.2 L138.0,768.3 L138.6,768.0 L139.3,767.9 L139.9,768.3 L140.6,768.7 L141.2,768.9 L141.9,769.5 L142.5,770.3 L143.2,770.5 L143.8,770.2 L144.5,770.3 L145.1,770.4 L145.8,770.6 L146.4,771.1 L147.1,771.6 L147.7,771.7 L148.4,772.1 L149.0,772.6 L149.7,772.9 L150.3,773.2 L151.0,773.1 L151.6,773.5 L152.3,773.7 L152.9,773.9 L153.5,774.4 L154.2,774.6 L154.8,774.2 L155.5,773.8 L156.1,774.4 L156.8,775.6 L157.4,776.2 L158.1,776.8 L158.7,777.4 L159.4,776.9 L160.0,776.1 L160.7,776.5 L161.3,777.2 L162.0,777.6 L162.6,778.7 L163.3,779.5 L164.0,779.2 L164.6,779.1 L165.3,779.0 L165.9,778.5 L166.6,778.6 L167.3,779.4 L167.9,780.0 L168.6,779.7 L169.3,779.3 L169.9,779.6 L170.6,779.9 L171.3,779.9 L172.0,780.1 L172.6,780.6 L173.3,781.3 L174.0,782.0 L174.7,782.3 L175.3,782.0 L176.0,782.2 L176.7,782.9 L177.4,783.4 L178.0,783.4 L178.7,783.7 L179.4,783.5 L180.0,783.1 L180.7,783.4 L181.4,783.5 L182.1,783.8 L182.7,784.6 L183.4,784.5 L184.1,784.2 L184.7,784.3 L185.4,784.2 L186.1,784.8 L186.7,785.7 L187.4,785.8 L188.1,786.0 L188.7,786.6 L189.4,787.0 L190.1,786.5 L190.8,785.7 L191.5,785.9 L192.2,786.1 L192.9,786.0 L193.6,786.6 L194.2,787.3 L194.9,787.9 L195.6,787.6 L196.3,786.5 L197.0,786.4 L197.7,786.7 L198.4,786.2 L199.1,786.1 L199.8,786.2 L200.5,786.2 L201.2,786.7 L201.8,786.4 L202.5,785.3 L203.1,785.3 L203.7,786.0 L204.3,785.6 L204.8,784.1 L205.4,783.6 L205.9,784.2 L206.4,783.8 L206.9,782.4 L207.4,781.9 L207.9,782.1 L208.3,781.4 L208.8,780.3 L209.2,780.1 L209.7,780.0 L210.1,778.8 L210.5,777.3 L210.9,776.4 L211.3,776.6 L211.7,776.4 L212.1,775.0 L212.5,774.0 L212.9,773.7 L213.2,773.0 L213.6,772.2 L214.0,771.9 L214.3,772.1 L214.7,772.0 L215.0,770.8 L215.4,769.7 L215.7,769.4 L216.1,769.6 L216.4,769.8 L216.7,769.0 L217.1,767.0 L217.4,766.1 L217.7,766.7 L218.1,766.5 L218.4,765.4 L218.7,765.0 L219.0,764.6 L219.3,763.8 L219.6,762.7 L219.9,761.1 L220.2,760.2 L220.5,759.7 L220.8,759.4 L221.1,759.2 L221.4,758.3 L221.7,757.5 L222.0,756.7 L222.3,756.1 L222.5,755.6 L222.8,754.9 L223.1,754.6 L223.4,754.1 L223.6,753.4 L223.9,752.8 L224.2,751.6 L224.4,750.7 L224.7,750.3 L225.0,749.7 L225.2,749.4 L225.5,749.6 L225.7,748.8 L226.0,747.1 L226.2,746.2 L226.5,745.7 L226.7,745.2 L226.9,744.6 L227.2,744.5 L227.4,744.3 L227.6,743.3 L227.9,742.6 L228.1,742.2 L228.3,741.2 L228.6,740.1 L228.8,740.1 L229.0,740.0 L229.2,738.7 L229.4,737.6 L229.6,737.3 L229.9,737.0 L230.1,735.8 L230.3,735.0 L230.5,735.2 L230.7,734.7 L230.9,733.3 L231.1,732.1 L231.3,731.4 L231.5,731.7 L231.7,731.3 L231.8,730.3 L232.0,729.3 L232.2,727.9 L232.4,726.9 L232.5,726.5 L232.7,725.9 L232.9,725.3 L233.1,725.2 L233.2,724.4 L233.4,723.1 L233.5,722.3 L233.7,722.4 L233.9,722.3 L234.0,721.1 L234.2,720.1 L234.3,719.4 L234.5,718.7 L234.6,718.4 L234.8,717.6 L234.9,716.5 L235.1,716.0 L235.2,715.4 L235.3,714.7 L235.5,714.3 L235.6,713.8 L235.8,713.4 L235.9,712.5 L236.0,711.0 L236.2,710.3 L236.3,709.9 L236.5,709.5 L236.6,708.7 L236.7,708.1 L236.9,707.4 L237.0,706.1 L237.1,705.3 L237.2,704.5 L237.4,703.7 L237.5,703.8 L237.6,703.6 L237.7,703.1 L237.9,701.9 L238.0,701.1 L238.1,700.6 L238.2,699.0 L238.3,698.0 L238.5,698.1 L238.6,697.3 L238.7,696.8 L238.8,696.4 L238.9,695.7 L239.1,695.3 L239.2,694.4 L239.3,692.8 L239.4,691.6 L239.5,691.6 L239.7,691.7 L239.8,690.5 L239.9,689.1 L240.0,688.9 L240.1,688.7 L240.2,687.8 L240.4,687.0 L240.5,686.4 L240.6,686.2 L240.7,685.1 L240.8,684.0 L240.9,683.9 L241.0,683.3 L241.2,682.6 L241.3,681.5 L241.4,680.0 L241.5,679.0 L241.6,678.4 L241.7,677.7 L241.8,676.8 L242.0,676.7 L242.1,676.8 L242.2,675.8 L242.3,674.8 L242.4,673.9 L242.5,673.4 L242.7,673.9 L242.8,673.5 L242.9,671.8 L243.0,670.8 L243.2,670.6 L243.3,669.5 L243.4,668.7 L243.6,668.8 L243.7,668.7 L243.8,668.0 L244.0,666.8 L244.1,665.9 L244.2,665.8 L244.4,665.5 L244.5,664.7 L244.6,663.3 L244.8,661.7 L244.9,661.0 L245.0,660.7 L245.1,660.5 L245.3,659.9 L245.4,658.8 L245.5,658.1 L245.6,657.6 L245.7,656.9 L245.8,655.8 L245.9,654.8 L246.0,653.8 L246.1,653.6 L246.2,653.6 L246.3,653.0 L246.4,652.4 L246.5,651.2 L246.5,650.1 L246.6,649.6 L246.7,648.9 L246.8,648.2 L246.8,647.4 L246.9,646.7 L247.0,645.8 L247.1,645.5 L247.1,645.6 L247.2,644.7 L247.3,644.0 L247.4,643.1 L247.5,642.0 L247.5,642.1 L247.6,641.5 L247.7,639.9 L247.8,639.0 L247.9,638.6 L248.0,637.9 L248.1,636.8 L248.2,636.5 L248.2,636.6 L248.3,635.5 L248.4,634.4 L248.5,633.9 L248.6,633.3 L248.7,632.8 L248.8,631.8 L248.9,630.7 L249.0,630.7 L249.1,630.5 L249.2,629.9 L249.3,629.0 L249.4,627.4 L249.5,626.0 L249.6,625.5 L249.7,625.2 L249.7,624.6 L249.8,623.8 L249.9,623.1 L250.0,622.0 L250.1,621.1 L250.2,620.8 L250.3,620.3 L250.4,620.1 L250.5,619.7 L250.6,618.5 L250.7,618.0 L250.8,617.4 L250.9,616.3 L251.0,616.0 L251.1,615.7 L251.2,614.7 L251.2,614.2 L251.3,613.7 L251.4,612.8 L251.5,612.4 L251.6,611.6 L251.7,610.5 L251.8,609.9 L251.9,609.1 L252.0,608.3 L252.1,607.6 L252.2,607.3 L252.2,606.3 L252.3,605.0 L252.4,604.7 L252.5,604.9 L252.6,604.1 L252.7,602.7 L252.8,601.6 L252.9,601.3 L253.0,600.9 L253.1,599.9 L253.2,599.8 L253.3,599.1 L253.4,597.5 L253.4,596.7 L253.5,596.6 L253.6,596.6 L253.7,596.4 L253.8,595.3 L253.9,593.4 L254.0,592.3 L254.1,592.0 L254.2,591.8 L254.3,590.8 L254.4,589.8 L254.5,589.7 L254.6,589.9 L254.7,589.4 L254.8,588.8 L254.9,588.1 L255.0,586.7 L255.1,585.3 L255.2,584.7 L255.3,583.7 L255.5,582.7 L255.6,582.7 L255.7,582.6 L255.8,581.6 L255.9,580.2 L256.0,579.8 L256.1,579.9 L256.2,578.9 L256.3,577.2 L256.4,576.2 L256.5,575.7 L256.6,575.1 L256.8,574.6 L256.9,573.9 L257.0,573.8 L257.1,573.9 L257.2,572.8 L257.3,570.9 L257.4,569.9 L257.6,569.8 L257.7,569.5 L257.8,568.5 L257.9,567.4 L258.0,566.7 L258.1,566.3 L258.2,566.5 L258.4,565.8 L258.5,564.8 L258.6,564.2 L258.7,563.4 L258.8,562.5 L259.0,561.6 L259.1,561.4 L259.2,561.4 L259.3,560.9 L259.5,559.5 L259.6,558.0 L259.7,557.3 L259.9,556.5 L260.0,555.5 L260.1,554.8 L260.3,554.0 L260.4,553.7 L260.5,554.0 L260.7,553.6 L260.8,552.3 L261.0,550.7 L261.1,549.6 L261.3,548.8 L261.4,548.1 L261.6,548.2 L261.8,548.8 L261.9,548.2 L262.1,546.4 L262.3,545.8 L262.4,546.0 L262.6,545.1 L262.8,543.8 L263.0,543.0 L263.2,542.3 L263.3,542.1 L263.5,541.8 L263.7,541.1 L263.9,540.2 L264.1,539.0 L264.3,538.9 L264.5,538.5 L264.7,537.1 L264.9,536.4 L265.2,536.0 L265.4,535.5 L265.6,535.2 L265.8,534.3 L266.1,533.6 L266.4,532.9 L266.6,531.8 L266.9,531.3 L267.2,530.4 L267.6,529.7 L268.0,529.4 L268.4,528.6 L268.8,527.6 L269.3,527.3 L269.8,527.7 L270.4,528.3 L270.9,528.3 L271.5,527.9 L272.1,528.2 L272.7,528.1 L273.3,527.4 L273.8,527.3 L274.3,528.1 L274.7,528.3 L275.2,528.9 L275.6,530.7 L275.9,531.7 L276.3,531.7 L276.6,532.1 L277.0,533.1 L277.3,533.8 L277.6,534.0 L277.9,534.2 L278.2,534.4 L278.4,535.0 L278.7,535.9 L279.0,536.1 L279.2,536.5 L279.5,537.8 L279.7,539.0 L279.9,539.7 L280.2,540.8 L280.4,541.6 L280.6,542.2 L280.8,542.6 L281.0,542.2 L281.2,543.0 L281.4,544.9 L281.6,545.5 L281.8,545.4 L282.0,545.9 L282.2,546.0 L282.4,546.3 L282.6,547.2 L282.8,548.2 L283.0,549.6 L283.1,550.8 L283.3,550.9 L283.5,550.8 L283.7,551.2 L283.8,551.6 L284.0,552.5 L284.2,553.9 L284.3,554.8 L284.5,555.2 L284.7,555.7 L284.8,556.5 L285.0,557.6 L285.1,558.1 L285.3,558.5 L285.4,559.3 L285.6,559.8 L285.8,560.3 L285.9,561.3 L286.1,562.5 L286.2,563.4 L286.3,564.4 L286.5,564.5 L286.6,564.8 L286.8,566.2 L286.9,567.5 L287.1,567.8 L287.2,567.9 L287.4,569.1 L287.5,570.0 L287.7,570.0 L287.8,570.6 L288.0,571.4 L288.2,572.1 L288.3,573.3 L288.5,574.4 L288.6,574.8 L288.8,575.1 L288.9,575.3 L289.1,575.6 L289.2,576.5 L289.4,578.1 L289.6,578.9 L289.7,578.4 L289.9,578.3 L290.0,579.2 L290.2,580.8 L290.3,581.9 L290.5,582.1 L290.6,582.8 L290.8,584.0 L291.0,584.7 L291.1,584.4 L291.3,584.7 L291.4,585.9 L291.6,586.7 L291.7,587.6 L291.9,588.9 L292.0,589.3 L292.2,589.4 L292.3,590.5 L292.5,592.1 L292.6,592.4 L292.7,592.4 L292.9,593.0 L293.0,593.6 L293.2,594.7 L293.3,596.0 L293.4,596.9 L293.6,596.9 L293.7,596.9 L293.9,597.8 L294.0,598.8 L294.1,599.4 L294.3,599.5 L294.4,600.3 L294.6,601.4 L294.7,601.9 L294.8,603.0 L295.0,604.2 L295.1,605.1 L295.3,605.7 L295.4,605.5 L295.6,605.5 L295.7,606.2 L295.9,606.9 L296.0,607.7 L296.2,608.7 L296.3,608.8 L296.5,609.7 L296.6,611.7 L296.8,612.4 L296.9,612.2 L297.1,613.0 L297.2,614.3 L297.4,614.8 L297.5,614.9 L297.7,615.9 L297.9,616.7 L298.0,617.1 L298.2,618.4 L298.3,618.8 L298.5,619.1 L298.7,619.8 L298.8,620.1 L299.0,620.9 L299.1,621.8 L299.3,622.6 L299.5,623.9 L299.6,624.4 L299.8,624.1 L299.9,624.2 L300.1,625.2 L300.2,626.3 L300.4,627.0 L300.6,628.2 L300.7,629.7 L300.9,630.1 L301.0,629.7 L301.2,630.2 L301.3,631.2 L301.5,631.9 L301.7,632.7 L301.8,633.7 L302.0,634.5 L302.1,634.7 L302.3,635.2 L302.4,635.8 L302.6,636.5 L302.7,637.5 L302.9,638.7 L303.1,639.9 L303.2,640.4 L303.4,640.0 L303.5,640.7 L303.7,642.1 L303.8,642.4 L304.0,642.5 L304.1,643.6 L304.3,644.7 L304.5,645.8 L304.6,646.8 L304.8,647.6 L304.9,648.2 L305.1,648.6 L305.2,648.5 L305.4,648.5 L305.6,649.4 L305.7,650.6 L305.9,651.1 L306.0,651.8 L306.2,653.0 L306.4,653.8 L306.5,653.9 L306.7,654.0 L306.8,654.6 L307.0,655.1 L307.1,656.2 L307.3,657.2 L307.5,657.9 L307.6,659.3 L307.8,659.8 L307.9,660.2 L308.1,661.0 L308.3,661.1 L308.4,662.0 L308.6,663.3 L308.8,663.7 L308.9,664.1 L309.1,664.5 L309.3,665.5 L309.4,666.4 L309.6,666.5 L309.8,667.2 L310.0,668.4 L310.1,668.9 L310.3,669.2 L310.5,670.4 L310.7,671.7 L310.8,672.1 L311.0,672.5 L311.2,672.8 L311.4,673.5 L311.6,674.5 L311.8,675.5 L312.0,676.5 L312.1,677.3 L312.3,677.9 L312.5,678.8 L312.7,679.2 L312.9,679.5 L313.1,680.2 L313.3,680.6 L313.5,680.5 L313.7,681.3 L313.9,682.8 L314.1,683.3 L314.3,683.3 L314.5,684.0 L314.7,684.5 L314.9,685.4 L315.1,686.7 L315.3,687.2 L315.5,687.1 L315.8,687.6 L316.0,689.2 L316.2,690.7 L316.4,691.2 L316.6,691.3 L316.8,692.1 L317.0,693.3 L317.2,694.0 L317.5,694.5 L317.7,695.0 L317.9,695.0 L318.1,695.1 L318.3,696.2 L318.6,697.7 L318.8,698.6 L319.0,698.9 L319.2,699.2 L319.5,699.4 L319.7,700.2 L319.9,701.0 L320.1,701.4 L320.4,702.0 L320.6,703.2 L320.8,704.3 L321.1,705.0 L321.3,705.6 L321.5,706.2 L321.8,707.0 L322.0,707.8 L322.3,708.4 L322.5,708.8 L322.7,709.1 L323.0,709.1 L323.2,709.8 L323.5,711.3 L323.7,711.5 L324.0,711.6 L324.2,713.2 L324.5,714.7 L324.7,715.5 L325.0,716.3 L325.3,716.7 L325.5,716.3 L325.8,716.1 L326.0,716.5 L326.3,717.6 L326.6,719.2 L326.9,719.9 L327.1,719.9 L327.4,721.1 L327.7,722.3 L328.0,722.3 L328.2,721.9 L328.5,722.5 L328.8,724.1 L329.1,725.0 L329.4,725.1 L329.7,725.2 L330.0,726.1 L330.3,727.9 L330.6,729.1 L330.9,729.7 L331.2,729.9 L331.5,730.2 L331.8,730.6 L332.1,730.9 L332.4,731.4 L332.7,731.8 L333.1,732.7 L333.4,733.9 L333.7,734.6 L334.0,735.3 L334.4,735.6 L334.7,735.5 L335.1,735.6 L335.4,736.2 L335.7,737.7 L336.1,738.7 L336.4,738.8 L336.8,739.7 L337.1,740.8 L337.5,741.3 L337.9,742.3 L338.2,742.8 L338.6,742.9 L338.9,743.0 L339.3,743.2 L339.6,744.3 L340.0,745.2 L340.4,745.0 L340.7,744.9 L341.1,745.4 L341.4,746.3 L341.8,747.5 L342.2,748.8 L342.5,749.4 L342.9,749.6 L343.3,749.9 L343.7,750.5 L344.0,751.7 L344.4,752.3 L344.8,752.4 L345.2,753.1 L345.5,754.5 L345.9,755.2 L346.3,755.0 L346.7,755.4 L347.1,756.0 L347.5,756.4 L347.8,757.7 L348.2,758.7 L348.6,758.6 L349.0,758.6 L349.4,759.1 L349.8,760.4 L350.2,761.7 L350.6,761.7 L351.0,761.5 L351.4,762.2 L351.8,763.5 L352.2,764.4 L352.6,764.6 L353.0,765.1 L353.4,765.6 L353.9,766.0 L354.3,767.0 L354.7,767.3 L355.1,767.6 L355.6,768.4 L356.0,768.3 L356.4,768.4 L356.9,769.3 L357.3,770.2 L357.8,770.4 L358.2,770.9 L358.7,771.6 L359.2,772.1 L359.6,772.7 L360.1,774.1 L360.6,774.9 L361.1,774.6 L361.5,774.8 L362.0,775.9 L362.5,776.3 L363.0,776.3 L363.5,777.3 L364.0,778.5 L364.5,778.8 L365.0,779.0 L365.5,779.6 L366.0,779.6 L366.5,779.4 L367.0,780.0 L367.6,781.0 L368.1,781.8 L368.6,782.6 L369.2,782.7 L369.7,782.4 L370.2,783.1 L370.8,784.0 L371.3,784.1 L371.9,784.4 L372.4,785.4 L373.0,785.5 L373.6,785.5 L374.1,786.0 L374.7,786.2 L375.3,786.7 L375.8,787.8 L376.4,788.4 L377.0,788.1 L377.6,788.0 L378.1,788.6 L378.7,789.2 L379.3,789.4 L379.9,789.9 L380.5,790.5 L381.1,790.3 L381.7,790.5 L382.3,791.8 L382.9,792.3 L383.5,791.9 L384.1,792.0 L384.7,793.2 L385.4,793.9 L386.0,793.7 L386.6,793.7 L387.2,794.2 L387.9,794.8 L388.5,795.0 L389.1,795.2 L389.7,795.7 L390.4,795.8 L391.0,795.6 L391.7,796.4 L392.3,797.5 L393.0,797.7 L393.6,797.5 L394.3,797.4 L394.9,797.1 L395.6,797.8 L396.2,798.4 L396.9,798.5 L397.6,799.4 L398.2,799.9 L398.9,799.5 L399.6,798.8 L400.2,798.5 L400.9,799.2 L401.6,800.0 L402.3,800.3 L402.9,800.4 L403.6,800.5 L404.3,801.2 L405.0,801.8 L405.6,801.4 L406.3,800.6 L407.0,800.3 L407.7,800.2 L408.3,800.8 L409.0,801.9 L409.7,802.4 L410.4,802.4 L411.1,802.1 L411.7,802.4 L412.4,803.6 L413.1,803.6 L413.8,803.0 L414.5,803.3 L415.2,803.2 L415.8,802.8 L416.5,803.2 L417.2,803.3 L417.9,803.8 L418.6,804.8 L419.3,804.5 L420.0,803.9 L420.7,803.9 L421.3,804.2 L422.0,804.9 L422.7,805.3 L423.4,804.8 L424.1,804.0 L424.8,804.1 L425.5,804.8 L426.2,805.4 L426.9,805.7 L427.5,805.4 L428.2,805.0 L428.9,805.1 L429.6,806.0 L430.3,806.5 L431.0,806.3 L431.7,806.2 L432.4,806.3 L433.1,806.8 L433.8,806.5 L434.5,806.2 L435.2,807.2 L435.9,807.3 L436.6,806.3 L437.3,805.9 L437.9,806.4 L438.6,807.3 L439.3,808.2 L440.0,808.1 L440.7,807.0 L441.4,806.7 L442.1,807.4 L442.8,807.6 L443.5,807.4 L444.2,808.1 L444.9,808.4 L445.6,807.6 L446.3,807.7 L447.0,808.2 L447.7,807.5 L448.4,807.0 L449.1,807.6 L449.8,808.1 L450.5,807.6 L451.2,807.5 L451.9,808.5 L452.6,809.2 L453.3,809.1 L454.0,809.1 L454.7,809.0 L455.4,808.5 L456.1,808.3 L456.8,808.6 L457.5,808.6 L458.2,808.2 L458.9,808.6 L459.6,809.4 L460.3,809.1 L461.0,809.3 L461.6,809.7 L462.3,809.1 L463.0,808.9 L463.7,808.9 L464.4,808.3 L465.1,808.3 L465.8,809.1 L466.5,808.9 L467.2,808.4 L467.9,808.9 L468.6,809.8 L469.3,810.1 L470.0,809.5 L470.7,809.4 L471.4,809.6 L472.1,809.6 L472.8,809.5 L473.5,809.6 L474.2,810.3 L474.9,810.5 L475.6,809.9 L476.3,809.7 L477.0,809.9 L477.7,810.1 L478.4,810.2 L479.1,809.8 L479.8,809.3 L480.5,809.6 L481.2,810.2 L481.9,810.4 L482.6,810.6 L483.3,810.2 L484.0,810.0 L484.7,810.4 L485.4,810.2 L486.1,810.1 L486.8,810.6 L487.5,810.5 L488.2,810.2 L488.9,810.5 L489.6,810.4 L490.3,809.8 L491.0,810.1 L491.7,811.1 L492.4,811.3 L493.1,810.4 L493.8,810.3 L494.5,810.4 L495.2,809.4 L495.9,809.1 L496.6,809.9 L497.3,809.9 L498.0,809.3 L498.7,809.0 L499.4,809.1 L500.1,809.3 L500.8,809.3 L501.5,809.1 L502.2,809.3 L502.9,809.5 L503.6,809.8 L504.3,810.4 L505.0,810.1 L505.7,809.8 L506.4,810.5 L507.1,810.8 L507.8,810.0 L508.5,809.6 L509.2,810.4 L509.9,811.2 L510.6,811.4 L511.3,811.1 L512.0,810.6 L512.7,810.0 L513.4,809.5 L514.1,809.8 L514.8,810.6 L515.5,810.6 L516.2,809.9 L516.9,809.5 L517.6,810.0 L518.3,810.5 L519.0,809.9 L519.7,809.4 L520.4,809.8 L521.1,810.3 L521.8,810.7 L522.5,810.7 L523.2,810.9 L523.9,811.5 L524.6,811.2 L525.3,810.0 L526.0,809.8 L526.7,809.9 L527.4,810.0 L528.1,810.8 L528.8,811.0 L529.5,810.8 L530.2,811.1 L530.9,810.8 L531.6,810.3 L532.3,810.7 L533.0,811.1 L533.7,811.5 L534.4,811.8 L535.1,811.6 L535.8,810.7 L536.5,810.0 L537.2,809.7 L537.9,809.8 L538.6,809.7 L539.3,810.0 L540.0,810.4 L540.7,809.8 L541.4,809.7 L542.1,810.6 L542.8,810.8 L543.5,810.7 L544.2,810.8 L544.9,810.1 L545.6,809.8 L546.3,810.0 L547.0,810.0 L547.7,810.8 L548.4,811.5 L549.1,811.5 L549.8,810.9 L550.5,809.9 L551.2,810.2 L551.9,811.1 L552.6,811.2 L553.3,810.7 L554.0,810.3 L554.7,809.7 L555.4,809.2 L556.1,809.5 L556.8,810.1 L557.5,810.3 L558.2,810.1 L558.9,809.7 L559.6,809.9 L560.3,809.7 L561.0,809.2 L561.7,809.7 L562.4,810.3 L563.1,810.2 L563.8,810.2 L564.5,810.2 L565.2,809.9 L565.9,809.8 L566.6,810.0 L567.3,809.5 L568.0,809.3 L568.7,809.7 L569.4,809.2 L570.1,809.0 L570.8,809.6 L571.5,809.5 L572.2,808.6 L572.9,808.1 L573.6,808.8 L574.3,809.3 L575.0,809.1 L575.7,808.9 L576.4,809.3 L577.1,809.7 L577.8,809.7 L578.5,809.5 L579.2,809.2 L579.9,809.1 L580.6,809.0 L581.3,808.5 L582.0,808.8 L582.7,809.3 L583.4,808.8 L584.1,807.9 L584.8,808.1 L585.5,809.1 L586.2,808.8 L586.9,807.9 L587.6,808.1 L588.3,808.9 L589.0,808.9 L589.7,808.1 L590.4,807.2 L591.1,806.8 L591.8,806.7 L592.5,806.6 L593.2,807.1 L593.9,808.0 L594.6,808.2 L595.3,808.1 L596.0,808.0 L596.7,807.2 L597.4,807.0 L598.1,807.6 L598.8,807.4 L599.5,807.3 L600.2,807.9 L600.9,808.1 L601.6,807.6 L602.3,807.3 L602.9,807.1 L603.6,806.5 L604.3,806.7 L605.0,807.4 L605.7,807.5 L606.4,806.9 L607.1,806.3 L607.8,806.8 L608.5,808.0 L609.2,808.4 L609.9,807.5 L610.6,806.1 L611.3,805.6 L612.0,806.3 L612.7,806.9 L613.4,806.4 L614.1,805.9 L614.8,806.3 L615.5,806.9 L616.2,807.2 L616.9,806.9 L617.6,805.9 L618.3,805.8 L619.0,806.4 L619.7,806.3 L620.4,806.6 L621.1,806.6 L621.8,805.8 L622.5,806.0 L623.2,806.2 L623.9,806.1 L624.6,806.3 L625.3,805.7 L626.0,805.5 L626.7,805.9 L627.4,806.1 L628.1,806.6 L628.8,806.1 L629.5,805.1 L630.2,805.3 L630.9,806.2 L631.6,806.5 L632.3,805.9 L633.0,805.7 L633.7,806.2 L634.4,806.5 L635.1,806.3 L635.8,805.7 L636.5,805.9 L637.2,806.7 L637.9,806.7 L638.6,806.4 L639.3,806.3 L640.0,805.9 L640.7,806.4 L641.4,806.7 L642.1,806.3 L642.8,805.7 L643.5,805.4 L644.2,806.0 L644.9,806.3 L645.6,806.0 L646.3,805.5 L647.0,805.4 L647.7,805.9 L648.4,806.0 L649.1,805.5 L649.8,805.2 L650.5,805.2 L651.2,805.4 L651.9,805.3 L652.6,804.6 L653.3,804.2 L654.0,804.6 L654.7,805.3 L655.4,805.5 L656.1,804.9 L656.8,804.7 L657.5,804.5 L658.2,804.6 L658.9,804.6 L659.6,804.5 L660.3,804.8 L661.0,804.8 L661.7,804.8 L662.4,805.0 L663.1,805.2 L663.8,805.5 L664.5,805.5 L665.2,805.4 L665.9,805.3 L666.6,805.2 L667.3,804.3 L668.0,803.6 L668.7,804.2 L669.4,804.8 L670.1,804.6 L670.8,804.5 L671.5,804.7 L672.2,804.4 L672.9,804.5 L673.6,804.5 L674.3,804.6 L675.0,805.2 L675.7,804.8 L676.4,804.5 L677.1,805.3 L677.8,805.3 L678.5,804.3 L679.2,804.3 L679.9,805.1 L680.6,805.0 L681.3,804.7 L682.0,804.9 L682.7,805.1 L683.4,805.0 L684.1,805.0 L684.8,804.5 L685.5,804.0 L686.2,804.6 L686.9,805.2 L687.6,804.8 L688.3,804.0 L689.0,803.8 L689.7,804.4 L690.4,804.3 L691.1,804.0 L691.8,804.0 L692.5,804.1 L693.2,803.9 L693.9,803.9 L694.6,803.8 L695.3,803.4 L696.0,803.5 L696.7,804.3 L697.4,804.8 L698.1,804.5 L698.8,804.6 L699.5,805.2 L700.2,805.2 L700.9,804.9 L701.6,804.6 L702.3,804.2 L703.0,803.5 L703.7,803.0 L704.4,802.8 L705.1,803.2 L705.8,804.0 L706.5,804.0 L707.2,803.7 L707.9,804.2 L708.6,804.2 L709.3,803.7 L710.0,803.6 L710.7,803.9 L711.4,803.4 L712.1,803.1 L712.8,803.6 L713.5,803.9 L714.2,804.3 L714.9,804.2 L715.6,803.6 L716.3,803.7 L717.0,804.1 L717.7,804.4 L718.4,804.6 L719.1,804.7 L719.8,804.8 L720.5,804.2 L721.2,803.4 L721.9,803.7 L722.6,804.4 L723.3,804.7 L724.0,804.5 L724.7,803.5 L725.4,803.0 L726.1,803.4 L726.8,803.6 L727.5,803.3 L728.2,802.9 L728.9,803.1 L729.6,803.3 L730.3,802.9 L731.0,802.6 L731.7,803.1 L732.4,804.0 L733.1,804.3 L733.8,803.9 L734.5,803.9 L735.2,804.0 L735.9,803.6 L736.6,803.2 L737.2,803.0 L737.9,803.0 L738.6,802.5 L739.3,802.6 L740.0,803.6" fill="none" stroke="#0016c2" stroke-width="6.8" stroke-linejoin="round" stroke-linecap="round" />
</g>
<g stroke="#8e9cfc" stroke-width="2.2" fill="none">
<line x1="886.8" y1="0" x2="886.8" y2="426.5"/>
<line x1="886.8" y1="425.40" x2="873.3" y2="425.40"/>
<line x1="886.8" y1="403.10" x2="880.0" y2="403.10"/>
<line x1="886.8" y1="380.80" x2="880.0" y2="380.80"/>
<line x1="886.8" y1="358.50" x2="880.0" y2="358.50"/>
<line x1="886.8" y1="336.20" x2="873.3" y2="336.20"/>
<line x1="886.8" y1="313.90" x2="880.0" y2="313.90"/>
<line x1="886.8" y1="291.60" x2="880.0" y2="291.60"/>
<line x1="886.8" y1="269.30" x2="880.0" y2="269.30"/>
<line x1="886.8" y1="247.00" x2="873.3" y2="247.00"/>
<line x1="886.8" y1="224.70" x2="880.0" y2="224.70"/>
<line x1="886.8" y1="202.40" x2="880.0" y2="202.40"/>
<line x1="886.8" y1="180.10" x2="880.0" y2="180.10"/>
<line x1="886.8" y1="157.80" x2="873.3" y2="157.80"/>
<line x1="886.8" y1="135.50" x2="880.0" y2="135.50"/>
<line x1="886.8" y1="113.20" x2="880.0" y2="113.20"/>
<line x1="886.8" y1="90.90" x2="880.0" y2="90.90"/>
<line x1="886.8" y1="68.60" x2="873.3" y2="68.60"/>
<line x1="886.8" y1="46.30" x2="880.0" y2="46.30"/>
<line x1="886.8" y1="24.00" x2="880.0" y2="24.00"/>
<line x1="886.8" y1="1.70" x2="880.0" y2="1.70"/>
</g>
<g font-size="36.0" fill="#000">
<text x="104.8" y="435.9" text-anchor="end">92</text>
<text x="104.8" y="346.7" text-anchor="end">94</text>
<text x="104.8" y="257.5" text-anchor="end">96</text>
<text x="104.8" y="168.3" text-anchor="end">98</text>
<text x="104.8" y="79.1" text-anchor="end">100</text>
<text x="104.8" y="859.9" text-anchor="end">1.5</text>
<text x="104.8" y="753.8" text-anchor="end">2.0</text>
<text x="104.8" y="647.8" text-anchor="end">2.5</text>
<text x="104.8" y="541.7" text-anchor="end">3.0</text>
<text x="820" y="435.9">0.0</text>
<text x="820" y="346.7">0.1</text>
<text x="820" y="257.5">0.2</text>
<text x="820" y="168.3">0.3</text>
<text x="820" y="79.1">0.4</text>
<text x="119.7" y="912.4" text-anchor="middle">0</text>
<text x="233.9" y="912.4" text-anchor="middle">10</text>
<text x="348.2" y="912.4" text-anchor="middle">20</text>
<text x="462.4" y="912.4" text-anchor="middle">30</text>
<text x="576.6" y="912.4" text-anchor="middle">40</text>
<text x="690.9" y="912.4" text-anchor="middle">50</text>
<text x="805.1" y="912.4" text-anchor="middle">60</text>
</g>
<g font-size="36.0" fill="#8e9cfc">
<text x="901.8" y="435.9">0</text>
<text x="901.8" y="346.7">20</text>
<text x="901.8" y="257.5">40</text>
<text x="901.8" y="168.3">60</text>
<text x="901.8" y="79.1">80</text>
</g>
<text x="751" y="50.3" font-size="38.6" font-weight="bold">A</text>
<text x="750.2" y="495.8" font-size="38.6" font-weight="bold">B</text>
<text x="326" y="632.3" font-size="39.4" font-weight="bold" fill="#0016c2">H<tspan font-size="27.8" dy="10.5">2</tspan><tspan dy="-10.5">O (18)</tspan></text>
<text x="462.5" y="963.5" font-size="40.2" text-anchor="middle"><tspan font-style="italic">t</tspan> [min]</text>
<text transform="translate(28.1,214.6) rotate(-90)" font-size="40.2" text-anchor="middle"><tspan font-style="italic">m</tspan>/<tspan font-style="italic">m</tspan><tspan font-size="27.8" dy="10.8">0</tspan><tspan dy="-10.8"> [%]</tspan></text>
<text transform="translate(28.6,658.4) rotate(-90)" font-size="39.8" text-anchor="middle">ion current [nA]</text>
<text transform="translate(984.9,70) rotate(-90)" font-size="40.2" text-anchor="middle" fill="#8e9cfc"><tspan font-style="italic">T</tspan> [°C]</text>
<g transform="translate(985,408.8) rotate(-90)" font-size="40.2">
<text x="-1.6" y="0" font-style="italic">Q</text>
<text x="12.7" y="-37.2" font-size="32">.</text>
<text x="26.4" y="10.3" font-size="27.8">spec.</text>
<text x="92.2" y="0">[W g</text>
<text x="170.8" y="-17" font-size="27.8">-1</text>
<text x="171.5" y="10" font-size="27.8">cat</text>
<text x="203.6" y="0">]</text>
</g>
</svg>
</body></html>
